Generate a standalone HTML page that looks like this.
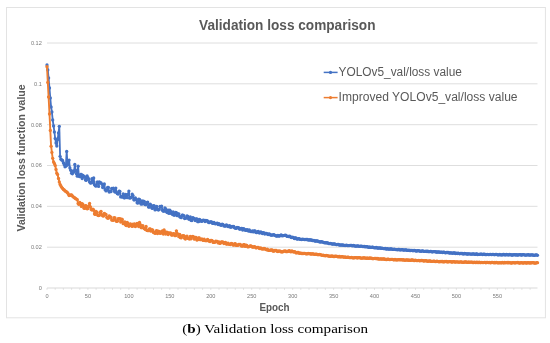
<!DOCTYPE html>
<html><head><meta charset="utf-8"><title>Validation loss comparison</title>
<style>html,body{margin:0;padding:0;background:#fff;width:550px;height:343px;overflow:hidden}svg{display:block}</style>
</head><body>
<svg width="550" height="343" viewBox="0 0 550 343">
<rect x="0" y="0" width="550" height="343" fill="#fff"/>
<rect x="6.5" y="7.5" width="538.9" height="310.3" fill="#fff" stroke="#e3e3e3" stroke-width="1"/>
<g stroke="#dedede" stroke-width="1"><line x1="47" y1="247.2" x2="537.5" y2="247.2"/><line x1="47" y1="206.3" x2="537.5" y2="206.3"/><line x1="47" y1="165.5" x2="537.5" y2="165.5"/><line x1="47" y1="124.7" x2="537.5" y2="124.7"/><line x1="47" y1="83.8" x2="537.5" y2="83.8"/><line x1="47" y1="43.0" x2="537.5" y2="43.0"/></g>
<line x1="47" y1="288" x2="537.5" y2="288" stroke="#d9d9d9" stroke-width="1"/>
<g stroke="#d9d9d9" stroke-width="0.8"><line x1="47.0" y1="288" x2="47.0" y2="289.8"/><line x1="55.2" y1="288" x2="55.2" y2="289.8"/><line x1="63.4" y1="288" x2="63.4" y2="289.8"/><line x1="71.6" y1="288" x2="71.6" y2="289.8"/><line x1="79.8" y1="288" x2="79.8" y2="289.8"/><line x1="87.9" y1="288" x2="87.9" y2="289.8"/><line x1="96.1" y1="288" x2="96.1" y2="289.8"/><line x1="104.3" y1="288" x2="104.3" y2="289.8"/><line x1="112.5" y1="288" x2="112.5" y2="289.8"/><line x1="120.7" y1="288" x2="120.7" y2="289.8"/><line x1="128.9" y1="288" x2="128.9" y2="289.8"/><line x1="137.1" y1="288" x2="137.1" y2="289.8"/><line x1="145.3" y1="288" x2="145.3" y2="289.8"/><line x1="153.5" y1="288" x2="153.5" y2="289.8"/><line x1="161.6" y1="288" x2="161.6" y2="289.8"/><line x1="169.8" y1="288" x2="169.8" y2="289.8"/><line x1="178.0" y1="288" x2="178.0" y2="289.8"/><line x1="186.2" y1="288" x2="186.2" y2="289.8"/><line x1="194.4" y1="288" x2="194.4" y2="289.8"/><line x1="202.6" y1="288" x2="202.6" y2="289.8"/><line x1="210.8" y1="288" x2="210.8" y2="289.8"/><line x1="219.0" y1="288" x2="219.0" y2="289.8"/><line x1="227.2" y1="288" x2="227.2" y2="289.8"/><line x1="235.3" y1="288" x2="235.3" y2="289.8"/><line x1="243.5" y1="288" x2="243.5" y2="289.8"/><line x1="251.7" y1="288" x2="251.7" y2="289.8"/><line x1="259.9" y1="288" x2="259.9" y2="289.8"/><line x1="268.1" y1="288" x2="268.1" y2="289.8"/><line x1="276.3" y1="288" x2="276.3" y2="289.8"/><line x1="284.5" y1="288" x2="284.5" y2="289.8"/><line x1="292.7" y1="288" x2="292.7" y2="289.8"/><line x1="300.8" y1="288" x2="300.8" y2="289.8"/><line x1="309.0" y1="288" x2="309.0" y2="289.8"/><line x1="317.2" y1="288" x2="317.2" y2="289.8"/><line x1="325.4" y1="288" x2="325.4" y2="289.8"/><line x1="333.6" y1="288" x2="333.6" y2="289.8"/><line x1="341.8" y1="288" x2="341.8" y2="289.8"/><line x1="350.0" y1="288" x2="350.0" y2="289.8"/><line x1="358.2" y1="288" x2="358.2" y2="289.8"/><line x1="366.4" y1="288" x2="366.4" y2="289.8"/><line x1="374.5" y1="288" x2="374.5" y2="289.8"/><line x1="382.7" y1="288" x2="382.7" y2="289.8"/><line x1="390.9" y1="288" x2="390.9" y2="289.8"/><line x1="399.1" y1="288" x2="399.1" y2="289.8"/><line x1="407.3" y1="288" x2="407.3" y2="289.8"/><line x1="415.5" y1="288" x2="415.5" y2="289.8"/><line x1="423.7" y1="288" x2="423.7" y2="289.8"/><line x1="431.9" y1="288" x2="431.9" y2="289.8"/><line x1="440.1" y1="288" x2="440.1" y2="289.8"/><line x1="448.2" y1="288" x2="448.2" y2="289.8"/><line x1="456.4" y1="288" x2="456.4" y2="289.8"/><line x1="464.6" y1="288" x2="464.6" y2="289.8"/><line x1="472.8" y1="288" x2="472.8" y2="289.8"/><line x1="481.0" y1="288" x2="481.0" y2="289.8"/><line x1="489.2" y1="288" x2="489.2" y2="289.8"/><line x1="497.4" y1="288" x2="497.4" y2="289.8"/><line x1="505.6" y1="288" x2="505.6" y2="289.8"/><line x1="513.8" y1="288" x2="513.8" y2="289.8"/><line x1="521.9" y1="288" x2="521.9" y2="289.8"/><line x1="530.1" y1="288" x2="530.1" y2="289.8"/></g>
<g font-family="'Liberation Sans', sans-serif" font-size="5.6" fill="#7a7a7a"><text x="41.8" y="289.9" text-anchor="end">0</text><text x="41.8" y="249.1" text-anchor="end">0.02</text><text x="41.8" y="208.2" text-anchor="end">0.04</text><text x="41.8" y="167.4" text-anchor="end">0.06</text><text x="41.8" y="126.6" text-anchor="end">0.08</text><text x="41.8" y="85.7" text-anchor="end">0.1</text><text x="41.8" y="44.9" text-anchor="end">0.12</text><text x="47.0" y="297.6" text-anchor="middle">0</text><text x="87.9" y="297.6" text-anchor="middle">50</text><text x="128.9" y="297.6" text-anchor="middle">100</text><text x="169.8" y="297.6" text-anchor="middle">150</text><text x="210.8" y="297.6" text-anchor="middle">200</text><text x="251.7" y="297.6" text-anchor="middle">250</text><text x="292.7" y="297.6" text-anchor="middle">300</text><text x="333.6" y="297.6" text-anchor="middle">350</text><text x="374.5" y="297.6" text-anchor="middle">400</text><text x="415.5" y="297.6" text-anchor="middle">450</text><text x="456.4" y="297.6" text-anchor="middle">500</text><text x="497.4" y="297.6" text-anchor="middle">550</text></g>
<polyline points="47.0,64.9 47.8,70.0 48.6,78.0 49.5,88.0 50.3,98.0 51.1,107.0 51.9,112.0 52.7,120.0 53.6,126.0 54.4,132.0 55.2,138.5 56.0,143.0 56.8,146.0 57.6,139.5 58.5,133.0 59.3,126.3 60.1,156.3 60.9,159.2 61.7,160.0 62.6,160.4 63.4,162.7 64.2,164.5 65.0,166.8 65.8,166.2 66.7,151.4 67.5,165.1 68.3,163.0 69.1,160.1 69.9,168.0 70.7,170.3 71.6,173.2 72.4,173.8 73.2,171.0 74.0,172.0 74.8,164.5 75.7,170.3 76.5,174.0 77.3,176.2 78.1,166.2 78.9,176.0 79.8,176.7 80.6,174.5 81.4,174.4 82.2,178.5 83.0,175.4 83.8,176.3 84.7,176.9 85.5,180.0 86.3,180.3 87.1,176.0 87.9,177.6 88.8,179.2 89.6,181.9 90.4,183.0 91.2,182.9 92.0,178.7 92.9,182.5 93.7,178.0 94.5,184.7 95.3,185.8 96.1,186.0 97.0,182.1 97.8,182.1 98.6,186.4 99.4,182.0 100.2,182.7 101.0,183.0 101.9,184.1 102.7,187.5 103.5,185.4 104.3,184.0 105.1,189.7 106.0,190.9 106.8,190.3 107.6,187.5 108.4,187.4 109.2,192.0 110.1,191.3 110.9,191.7 111.7,188.5 112.5,188.8 113.3,188.1 114.1,191.1 115.0,192.1 115.8,188.1 116.6,192.4 117.4,193.7 118.2,194.1 119.1,191.1 119.9,191.5 120.7,196.9 121.5,196.7 122.3,197.1 123.2,193.8 124.0,197.8 124.8,197.8 125.6,194.5 126.4,194.8 127.2,197.7 128.1,194.1 128.9,191.1 129.7,198.2 130.5,197.6 131.3,197.7 132.2,194.1 133.0,195.6 133.8,199.8 134.6,199.9 135.4,197.9 136.3,199.3 137.1,202.8 137.9,203.0 138.7,199.1 139.5,199.4 140.4,202.7 141.2,204.2 142.0,200.8 142.8,203.9 143.6,201.1 144.4,201.6 145.3,204.7 146.1,204.7 146.9,202.7 147.7,202.1 148.5,207.0 149.4,207.0 150.2,204.2 151.0,205.1 151.8,208.1 152.6,208.4 153.5,205.6 154.3,205.8 155.1,209.9 155.9,209.3 156.7,206.4 157.5,209.1 158.4,210.1 159.2,209.4 160.0,206.4 160.8,207.1 161.6,206.1 162.5,210.2 163.3,211.2 164.1,211.2 164.9,208.0 165.7,208.8 166.6,212.0 167.4,212.5 168.2,210.1 169.0,213.4 169.8,210.1 170.6,211.3 171.5,213.6 172.3,214.3 173.1,211.8 173.9,215.2 174.7,215.0 175.6,212.3 176.4,212.6 177.2,215.7 178.0,214.0 178.8,213.8 179.7,216.8 180.5,217.0 181.3,217.7 182.1,215.2 182.9,215.2 183.8,215.6 184.6,218.6 185.4,217.8 186.2,218.2 187.0,215.9 187.8,216.4 188.7,219.1 189.5,219.2 190.3,216.8 191.1,220.4 191.9,220.6 192.8,217.6 193.6,218.1 194.4,218.8 195.2,220.6 196.0,219.0 196.9,218.8 197.7,221.7 198.5,221.7 199.3,219.3 200.1,219.9 200.9,221.0 201.8,221.4 202.6,220.3 203.4,220.2 204.2,220.5 205.0,221.6 205.9,220.5 206.7,220.7 207.5,220.9 208.3,222.2 209.1,222.7 210.0,221.8 210.8,221.8 211.6,222.0 212.4,223.3 213.2,223.4 214.0,222.5 214.9,223.7 215.7,223.8 216.5,223.3 217.3,223.1 218.1,224.5 219.0,223.7 219.8,224.7 220.6,225.0 221.4,225.3 222.2,224.1 223.1,224.6 223.9,225.9 224.7,225.9 225.5,226.2 226.3,224.9 227.2,225.3 228.0,226.6 228.8,226.5 229.6,225.6 230.4,227.2 231.2,227.2 232.1,226.4 232.9,226.7 233.7,226.4 234.5,227.8 235.3,228.1 236.2,228.4 237.0,227.3 237.8,227.7 238.6,227.7 239.4,229.0 240.3,229.2 241.1,228.5 241.9,228.4 242.7,230.0 243.5,228.6 244.3,229.1 245.2,230.2 246.0,230.4 246.8,229.7 247.6,230.0 248.4,231.0 249.3,229.9 250.1,231.2 250.9,231.6 251.7,231.5 252.5,230.9 253.4,231.9 254.2,230.9 255.0,230.9 255.8,232.2 256.6,232.7 257.4,231.7 258.3,231.4 259.1,232.8 259.9,232.9 260.7,231.9 261.5,232.3 262.4,233.6 263.2,232.6 264.0,232.8 264.8,234.1 265.6,233.3 266.5,233.4 267.3,234.1 268.1,234.5 268.9,234.0 269.7,234.2 270.6,235.0 271.4,235.1 272.2,235.2 273.0,234.8 273.8,234.7 274.6,235.1 275.5,235.7 276.3,236.0 277.1,236.0 277.9,235.5 278.7,236.1 279.6,236.0 280.4,235.3 281.2,235.0 282.0,235.8 282.8,235.7 283.7,235.6 284.5,235.3 285.3,235.2 286.1,235.3 286.9,236.3 287.7,236.4 288.6,236.5 289.4,236.1 290.2,236.4 291.0,237.4 291.8,237.6 292.7,237.1 293.5,237.6 294.3,238.5 295.1,238.0 295.9,238.0 296.8,238.9 297.6,239.2 298.4,238.6 299.2,238.6 300.0,239.3 300.8,239.4 301.7,239.5 302.5,239.2 303.3,239.3 304.1,239.3 304.9,239.7 305.8,239.3 306.6,239.5 307.4,239.5 308.2,239.9 309.0,240.1 309.9,239.7 310.7,240.2 311.5,239.9 312.3,240.5 313.1,240.6 313.9,240.4 314.8,241.0 315.6,241.0 316.4,240.9 317.2,241.0 318.0,241.2 318.9,241.7 319.7,241.8 320.5,242.0 321.3,241.7 322.1,241.9 323.0,242.1 323.8,242.6 324.6,242.7 325.4,242.9 326.2,242.7 327.1,242.9 327.9,242.9 328.7,243.6 329.5,243.6 330.3,243.5 331.1,243.6 332.0,244.0 332.8,244.1 333.6,243.9 334.4,244.0 335.2,244.1 336.1,244.6 336.9,244.7 337.7,244.4 338.5,244.5 339.3,245.0 340.2,245.1 341.0,244.9 341.8,245.2 342.6,245.0 343.4,245.1 344.2,245.4 345.1,245.5 345.9,245.3 346.7,245.2 347.5,245.6 348.3,245.6 349.2,245.6 350.0,245.4 350.8,245.3 351.6,245.4 352.4,245.9 353.3,245.5 354.1,245.6 354.9,246.1 355.7,246.1 356.5,246.2 357.3,245.9 358.2,245.9 359.0,246.3 359.8,246.3 360.6,246.1 361.4,246.1 362.3,246.3 363.1,246.7 363.9,246.4 364.7,246.5 365.5,246.9 366.4,246.6 367.2,246.6 368.0,247.2 368.8,247.3 369.6,247.0 370.5,247.4 371.3,247.4 372.1,247.2 372.9,247.2 373.7,247.6 374.5,247.8 375.4,247.8 376.2,247.5 377.0,247.9 377.8,248.0 378.6,248.2 379.5,247.9 380.3,247.9 381.1,248.4 381.9,248.1 382.7,248.3 383.6,248.6 384.4,248.7 385.2,248.5 386.0,248.9 386.8,249.0 387.6,248.7 388.5,249.1 389.3,249.2 390.1,248.9 390.9,249.0 391.7,248.9 392.6,249.4 393.4,249.4 394.2,249.1 395.0,249.3 395.8,249.6 396.7,249.6 397.5,249.8 398.3,249.5 399.1,249.4 399.9,249.9 400.7,249.9 401.6,249.6 402.4,249.7 403.2,250.0 404.0,250.1 404.8,249.9 405.7,249.9 406.5,250.0 407.3,250.4 408.1,250.4 408.9,250.1 409.8,250.5 410.6,250.5 411.4,250.3 412.2,250.3 413.0,250.8 413.9,250.4 414.7,250.5 415.5,250.8 416.3,251.0 417.1,250.9 417.9,250.7 418.8,250.7 419.6,251.1 420.4,251.2 421.2,251.3 422.0,250.8 422.9,250.9 423.7,251.3 424.5,251.4 425.3,251.4 426.1,251.1 427.0,251.5 427.8,251.2 428.6,251.7 429.4,251.7 430.2,251.3 431.0,251.4 431.9,251.9 432.7,251.8 433.5,251.6 434.3,251.6 435.1,251.7 436.0,252.0 436.8,252.0 437.6,252.2 438.4,251.8 439.2,252.0 440.1,252.3 440.9,252.1 441.7,252.1 442.5,252.5 443.3,252.2 444.1,252.2 445.0,252.7 445.8,252.8 446.6,252.4 447.4,252.5 448.2,252.5 449.1,252.9 449.9,253.0 450.7,252.8 451.5,252.8 452.3,253.3 453.2,252.9 454.0,253.0 454.8,253.0 455.6,253.5 456.4,253.2 457.3,253.5 458.1,253.2 458.9,253.3 459.7,253.8 460.5,253.4 461.3,253.5 462.2,253.5 463.0,253.9 463.8,253.9 464.6,253.5 465.4,253.6 466.3,253.9 467.1,254.0 467.9,254.0 468.7,253.8 469.5,253.8 470.4,254.1 471.2,254.1 472.0,254.2 472.8,253.8 473.6,253.9 474.4,254.2 475.3,254.4 476.1,254.0 476.9,254.0 477.7,254.5 478.5,254.4 479.4,254.4 480.2,254.1 481.0,254.1 481.8,254.1 482.6,254.6 483.5,254.1 484.3,254.2 485.1,254.6 485.9,254.5 486.7,254.6 487.5,254.3 488.4,254.6 489.2,254.6 490.0,254.3 490.8,254.3 491.6,254.7 492.5,254.4 493.3,254.3 494.1,254.7 494.9,254.7 495.7,254.4 496.6,254.3 497.4,254.8 498.2,254.8 499.0,254.8 499.8,254.5 500.7,254.8 501.5,254.9 502.3,254.9 503.1,254.5 503.9,254.4 504.7,254.9 505.6,254.9 506.4,254.5 507.2,254.6 508.0,254.9 508.8,254.9 509.7,254.5 510.5,254.6 511.3,255.0 512.1,255.0 512.9,255.0 513.8,254.6 514.6,254.7 515.4,255.0 516.2,254.6 517.0,255.0 517.8,255.0 518.7,254.8 519.5,254.7 520.3,254.7 521.1,255.0 521.9,255.0 522.8,254.7 523.6,254.7 524.4,254.8 525.2,255.1 526.0,255.2 526.9,254.8 527.7,254.8 528.5,254.7 529.3,255.2 530.1,255.1 530.9,254.8 531.8,254.9 532.6,254.9 533.4,255.2 534.2,255.3 535.0,255.2 535.9,254.8 536.7,254.9 537.5,255.3" fill="none" stroke="#4472C4" stroke-width="1.8" stroke-linejoin="round" stroke-linecap="round"/>
<g fill="#4472C4"><circle cx="47.0" cy="64.9" r="1.65"/><circle cx="47.8" cy="70.0" r="1.65"/><circle cx="48.6" cy="78.0" r="1.65"/><circle cx="49.5" cy="88.0" r="1.65"/><circle cx="50.3" cy="98.0" r="1.65"/><circle cx="51.1" cy="107.0" r="1.65"/><circle cx="51.9" cy="112.0" r="1.65"/><circle cx="52.7" cy="120.0" r="1.65"/><circle cx="53.6" cy="126.0" r="1.65"/><circle cx="54.4" cy="132.0" r="1.65"/><circle cx="55.2" cy="138.5" r="1.65"/><circle cx="56.0" cy="143.0" r="1.65"/><circle cx="56.8" cy="146.0" r="1.65"/><circle cx="57.6" cy="139.5" r="1.65"/><circle cx="58.5" cy="133.0" r="1.65"/><circle cx="59.3" cy="126.3" r="1.65"/><circle cx="60.1" cy="156.3" r="1.65"/><circle cx="60.9" cy="159.2" r="1.65"/><circle cx="61.7" cy="160.0" r="1.65"/><circle cx="62.6" cy="160.4" r="1.65"/><circle cx="63.4" cy="162.7" r="1.65"/><circle cx="64.2" cy="164.5" r="1.65"/><circle cx="65.0" cy="166.8" r="1.65"/><circle cx="65.8" cy="166.2" r="1.65"/><circle cx="66.7" cy="151.4" r="1.65"/><circle cx="67.5" cy="165.1" r="1.65"/><circle cx="68.3" cy="163.0" r="1.65"/><circle cx="69.1" cy="160.1" r="1.65"/><circle cx="69.9" cy="168.0" r="1.65"/><circle cx="70.7" cy="170.3" r="1.65"/><circle cx="71.6" cy="173.2" r="1.65"/><circle cx="72.4" cy="173.8" r="1.65"/><circle cx="73.2" cy="171.0" r="1.65"/><circle cx="74.0" cy="172.0" r="1.65"/><circle cx="74.8" cy="164.5" r="1.65"/><circle cx="75.7" cy="170.3" r="1.65"/><circle cx="76.5" cy="174.0" r="1.65"/><circle cx="77.3" cy="176.2" r="1.65"/><circle cx="78.1" cy="166.2" r="1.65"/><circle cx="78.9" cy="176.0" r="1.65"/><circle cx="79.8" cy="176.7" r="1.65"/><circle cx="80.6" cy="174.5" r="1.65"/><circle cx="81.4" cy="174.4" r="1.65"/><circle cx="82.2" cy="178.5" r="1.65"/><circle cx="83.0" cy="175.4" r="1.65"/><circle cx="83.8" cy="176.3" r="1.65"/><circle cx="84.7" cy="176.9" r="1.65"/><circle cx="85.5" cy="180.0" r="1.65"/><circle cx="86.3" cy="180.3" r="1.65"/><circle cx="87.1" cy="176.0" r="1.65"/><circle cx="87.9" cy="177.6" r="1.65"/><circle cx="88.8" cy="179.2" r="1.65"/><circle cx="89.6" cy="181.9" r="1.65"/><circle cx="90.4" cy="183.0" r="1.65"/><circle cx="91.2" cy="182.9" r="1.65"/><circle cx="92.0" cy="178.7" r="1.65"/><circle cx="92.9" cy="182.5" r="1.65"/><circle cx="93.7" cy="178.0" r="1.65"/><circle cx="94.5" cy="184.7" r="1.65"/><circle cx="95.3" cy="185.8" r="1.65"/><circle cx="96.1" cy="186.0" r="1.65"/><circle cx="97.0" cy="182.1" r="1.65"/><circle cx="97.8" cy="182.1" r="1.65"/><circle cx="98.6" cy="186.4" r="1.65"/><circle cx="99.4" cy="182.0" r="1.65"/><circle cx="100.2" cy="182.7" r="1.65"/><circle cx="101.0" cy="183.0" r="1.65"/><circle cx="101.9" cy="184.1" r="1.65"/><circle cx="102.7" cy="187.5" r="1.65"/><circle cx="103.5" cy="185.4" r="1.65"/><circle cx="104.3" cy="184.0" r="1.65"/><circle cx="105.1" cy="189.7" r="1.65"/><circle cx="106.0" cy="190.9" r="1.65"/><circle cx="106.8" cy="190.3" r="1.65"/><circle cx="107.6" cy="187.5" r="1.65"/><circle cx="108.4" cy="187.4" r="1.65"/><circle cx="109.2" cy="192.0" r="1.65"/><circle cx="110.1" cy="191.3" r="1.65"/><circle cx="110.9" cy="191.7" r="1.65"/><circle cx="111.7" cy="188.5" r="1.65"/><circle cx="112.5" cy="188.8" r="1.65"/><circle cx="113.3" cy="188.1" r="1.65"/><circle cx="114.1" cy="191.1" r="1.65"/><circle cx="115.0" cy="192.1" r="1.65"/><circle cx="115.8" cy="188.1" r="1.65"/><circle cx="116.6" cy="192.4" r="1.65"/><circle cx="117.4" cy="193.7" r="1.65"/><circle cx="118.2" cy="194.1" r="1.65"/><circle cx="119.1" cy="191.1" r="1.65"/><circle cx="119.9" cy="191.5" r="1.65"/><circle cx="120.7" cy="196.9" r="1.65"/><circle cx="121.5" cy="196.7" r="1.65"/><circle cx="122.3" cy="197.1" r="1.65"/><circle cx="123.2" cy="193.8" r="1.65"/><circle cx="124.0" cy="197.8" r="1.65"/><circle cx="124.8" cy="197.8" r="1.65"/><circle cx="125.6" cy="194.5" r="1.65"/><circle cx="126.4" cy="194.8" r="1.65"/><circle cx="127.2" cy="197.7" r="1.65"/><circle cx="128.1" cy="194.1" r="1.65"/><circle cx="128.9" cy="191.1" r="1.65"/><circle cx="129.7" cy="198.2" r="1.65"/><circle cx="130.5" cy="197.6" r="1.65"/><circle cx="131.3" cy="197.7" r="1.65"/><circle cx="132.2" cy="194.1" r="1.65"/><circle cx="133.0" cy="195.6" r="1.65"/><circle cx="133.8" cy="199.8" r="1.65"/><circle cx="134.6" cy="199.9" r="1.65"/><circle cx="135.4" cy="197.9" r="1.65"/><circle cx="136.3" cy="199.3" r="1.65"/><circle cx="137.1" cy="202.8" r="1.65"/><circle cx="137.9" cy="203.0" r="1.65"/><circle cx="138.7" cy="199.1" r="1.65"/><circle cx="139.5" cy="199.4" r="1.65"/><circle cx="140.4" cy="202.7" r="1.65"/><circle cx="141.2" cy="204.2" r="1.65"/><circle cx="142.0" cy="200.8" r="1.65"/><circle cx="142.8" cy="203.9" r="1.65"/><circle cx="143.6" cy="201.1" r="1.65"/><circle cx="144.4" cy="201.6" r="1.65"/><circle cx="145.3" cy="204.7" r="1.65"/><circle cx="146.1" cy="204.7" r="1.65"/><circle cx="146.9" cy="202.7" r="1.65"/><circle cx="147.7" cy="202.1" r="1.65"/><circle cx="148.5" cy="207.0" r="1.65"/><circle cx="149.4" cy="207.0" r="1.65"/><circle cx="150.2" cy="204.2" r="1.65"/><circle cx="151.0" cy="205.1" r="1.65"/><circle cx="151.8" cy="208.1" r="1.65"/><circle cx="152.6" cy="208.4" r="1.65"/><circle cx="153.5" cy="205.6" r="1.65"/><circle cx="154.3" cy="205.8" r="1.65"/><circle cx="155.1" cy="209.9" r="1.65"/><circle cx="155.9" cy="209.3" r="1.65"/><circle cx="156.7" cy="206.4" r="1.65"/><circle cx="157.5" cy="209.1" r="1.65"/><circle cx="158.4" cy="210.1" r="1.65"/><circle cx="159.2" cy="209.4" r="1.65"/><circle cx="160.0" cy="206.4" r="1.65"/><circle cx="160.8" cy="207.1" r="1.65"/><circle cx="161.6" cy="206.1" r="1.65"/><circle cx="162.5" cy="210.2" r="1.65"/><circle cx="163.3" cy="211.2" r="1.65"/><circle cx="164.1" cy="211.2" r="1.65"/><circle cx="164.9" cy="208.0" r="1.65"/><circle cx="165.7" cy="208.8" r="1.65"/><circle cx="166.6" cy="212.0" r="1.65"/><circle cx="167.4" cy="212.5" r="1.65"/><circle cx="168.2" cy="210.1" r="1.65"/><circle cx="169.0" cy="213.4" r="1.65"/><circle cx="169.8" cy="210.1" r="1.65"/><circle cx="170.6" cy="211.3" r="1.65"/><circle cx="171.5" cy="213.6" r="1.65"/><circle cx="172.3" cy="214.3" r="1.65"/><circle cx="173.1" cy="211.8" r="1.65"/><circle cx="173.9" cy="215.2" r="1.65"/><circle cx="174.7" cy="215.0" r="1.65"/><circle cx="175.6" cy="212.3" r="1.65"/><circle cx="176.4" cy="212.6" r="1.65"/><circle cx="177.2" cy="215.7" r="1.65"/><circle cx="178.0" cy="214.0" r="1.65"/><circle cx="178.8" cy="213.8" r="1.65"/><circle cx="179.7" cy="216.8" r="1.65"/><circle cx="180.5" cy="217.0" r="1.65"/><circle cx="181.3" cy="217.7" r="1.65"/><circle cx="182.1" cy="215.2" r="1.65"/><circle cx="182.9" cy="215.2" r="1.65"/><circle cx="183.8" cy="215.6" r="1.65"/><circle cx="184.6" cy="218.6" r="1.65"/><circle cx="185.4" cy="217.8" r="1.65"/><circle cx="186.2" cy="218.2" r="1.65"/><circle cx="187.0" cy="215.9" r="1.65"/><circle cx="187.8" cy="216.4" r="1.65"/><circle cx="188.7" cy="219.1" r="1.65"/><circle cx="189.5" cy="219.2" r="1.65"/><circle cx="190.3" cy="216.8" r="1.65"/><circle cx="191.1" cy="220.4" r="1.65"/><circle cx="191.9" cy="220.6" r="1.65"/><circle cx="192.8" cy="217.6" r="1.65"/><circle cx="193.6" cy="218.1" r="1.65"/><circle cx="194.4" cy="218.8" r="1.65"/><circle cx="195.2" cy="220.6" r="1.65"/><circle cx="196.0" cy="219.0" r="1.65"/><circle cx="196.9" cy="218.8" r="1.65"/><circle cx="197.7" cy="221.7" r="1.65"/><circle cx="198.5" cy="221.7" r="1.65"/><circle cx="199.3" cy="219.3" r="1.65"/><circle cx="200.1" cy="219.9" r="1.65"/><circle cx="200.9" cy="221.0" r="1.65"/><circle cx="201.8" cy="221.4" r="1.65"/><circle cx="202.6" cy="220.3" r="1.65"/><circle cx="203.4" cy="220.2" r="1.65"/><circle cx="204.2" cy="220.5" r="1.65"/><circle cx="205.0" cy="221.6" r="1.65"/><circle cx="205.9" cy="220.5" r="1.65"/><circle cx="206.7" cy="220.7" r="1.65"/><circle cx="207.5" cy="220.9" r="1.65"/><circle cx="208.3" cy="222.2" r="1.65"/><circle cx="209.1" cy="222.7" r="1.65"/><circle cx="210.0" cy="221.8" r="1.65"/><circle cx="210.8" cy="221.8" r="1.65"/><circle cx="211.6" cy="222.0" r="1.65"/><circle cx="212.4" cy="223.3" r="1.65"/><circle cx="213.2" cy="223.4" r="1.65"/><circle cx="214.0" cy="222.5" r="1.65"/><circle cx="214.9" cy="223.7" r="1.65"/><circle cx="215.7" cy="223.8" r="1.65"/><circle cx="216.5" cy="223.3" r="1.65"/><circle cx="217.3" cy="223.1" r="1.65"/><circle cx="218.1" cy="224.5" r="1.65"/><circle cx="219.0" cy="223.7" r="1.65"/><circle cx="219.8" cy="224.7" r="1.65"/><circle cx="220.6" cy="225.0" r="1.65"/><circle cx="221.4" cy="225.3" r="1.65"/><circle cx="222.2" cy="224.1" r="1.65"/><circle cx="223.1" cy="224.6" r="1.65"/><circle cx="223.9" cy="225.9" r="1.65"/><circle cx="224.7" cy="225.9" r="1.65"/><circle cx="225.5" cy="226.2" r="1.65"/><circle cx="226.3" cy="224.9" r="1.65"/><circle cx="227.2" cy="225.3" r="1.65"/><circle cx="228.0" cy="226.6" r="1.65"/><circle cx="228.8" cy="226.5" r="1.65"/><circle cx="229.6" cy="225.6" r="1.65"/><circle cx="230.4" cy="227.2" r="1.65"/><circle cx="231.2" cy="227.2" r="1.65"/><circle cx="232.1" cy="226.4" r="1.65"/><circle cx="232.9" cy="226.7" r="1.65"/><circle cx="233.7" cy="226.4" r="1.65"/><circle cx="234.5" cy="227.8" r="1.65"/><circle cx="235.3" cy="228.1" r="1.65"/><circle cx="236.2" cy="228.4" r="1.65"/><circle cx="237.0" cy="227.3" r="1.65"/><circle cx="237.8" cy="227.7" r="1.65"/><circle cx="238.6" cy="227.7" r="1.65"/><circle cx="239.4" cy="229.0" r="1.65"/><circle cx="240.3" cy="229.2" r="1.65"/><circle cx="241.1" cy="228.5" r="1.65"/><circle cx="241.9" cy="228.4" r="1.65"/><circle cx="242.7" cy="230.0" r="1.65"/><circle cx="243.5" cy="228.6" r="1.65"/><circle cx="244.3" cy="229.1" r="1.65"/><circle cx="245.2" cy="230.2" r="1.65"/><circle cx="246.0" cy="230.4" r="1.65"/><circle cx="246.8" cy="229.7" r="1.65"/><circle cx="247.6" cy="230.0" r="1.65"/><circle cx="248.4" cy="231.0" r="1.65"/><circle cx="249.3" cy="229.9" r="1.65"/><circle cx="250.1" cy="231.2" r="1.65"/><circle cx="250.9" cy="231.6" r="1.65"/><circle cx="251.7" cy="231.5" r="1.65"/><circle cx="252.5" cy="230.9" r="1.65"/><circle cx="253.4" cy="231.9" r="1.65"/><circle cx="254.2" cy="230.9" r="1.65"/><circle cx="255.0" cy="230.9" r="1.65"/><circle cx="255.8" cy="232.2" r="1.65"/><circle cx="256.6" cy="232.7" r="1.65"/><circle cx="257.4" cy="231.7" r="1.65"/><circle cx="258.3" cy="231.4" r="1.65"/><circle cx="259.1" cy="232.8" r="1.65"/><circle cx="259.9" cy="232.9" r="1.65"/><circle cx="260.7" cy="231.9" r="1.65"/><circle cx="261.5" cy="232.3" r="1.65"/><circle cx="262.4" cy="233.6" r="1.65"/><circle cx="263.2" cy="232.6" r="1.65"/><circle cx="264.0" cy="232.8" r="1.65"/><circle cx="264.8" cy="234.1" r="1.65"/><circle cx="265.6" cy="233.3" r="1.65"/><circle cx="266.5" cy="233.4" r="1.65"/><circle cx="267.3" cy="234.1" r="1.65"/><circle cx="268.1" cy="234.5" r="1.65"/><circle cx="268.9" cy="234.0" r="1.65"/><circle cx="269.7" cy="234.2" r="1.65"/><circle cx="270.6" cy="235.0" r="1.65"/><circle cx="271.4" cy="235.1" r="1.65"/><circle cx="272.2" cy="235.2" r="1.65"/><circle cx="273.0" cy="234.8" r="1.65"/><circle cx="273.8" cy="234.7" r="1.65"/><circle cx="274.6" cy="235.1" r="1.65"/><circle cx="275.5" cy="235.7" r="1.65"/><circle cx="276.3" cy="236.0" r="1.65"/><circle cx="277.1" cy="236.0" r="1.65"/><circle cx="277.9" cy="235.5" r="1.65"/><circle cx="278.7" cy="236.1" r="1.65"/><circle cx="279.6" cy="236.0" r="1.65"/><circle cx="280.4" cy="235.3" r="1.65"/><circle cx="281.2" cy="235.0" r="1.65"/><circle cx="282.0" cy="235.8" r="1.65"/><circle cx="282.8" cy="235.7" r="1.65"/><circle cx="283.7" cy="235.6" r="1.65"/><circle cx="284.5" cy="235.3" r="1.65"/><circle cx="285.3" cy="235.2" r="1.65"/><circle cx="286.1" cy="235.3" r="1.65"/><circle cx="286.9" cy="236.3" r="1.65"/><circle cx="287.7" cy="236.4" r="1.65"/><circle cx="288.6" cy="236.5" r="1.65"/><circle cx="289.4" cy="236.1" r="1.65"/><circle cx="290.2" cy="236.4" r="1.65"/><circle cx="291.0" cy="237.4" r="1.65"/><circle cx="291.8" cy="237.6" r="1.65"/><circle cx="292.7" cy="237.1" r="1.65"/><circle cx="293.5" cy="237.6" r="1.65"/><circle cx="294.3" cy="238.5" r="1.65"/><circle cx="295.1" cy="238.0" r="1.65"/><circle cx="295.9" cy="238.0" r="1.65"/><circle cx="296.8" cy="238.9" r="1.65"/><circle cx="297.6" cy="239.2" r="1.65"/><circle cx="298.4" cy="238.6" r="1.65"/><circle cx="299.2" cy="238.6" r="1.65"/><circle cx="300.0" cy="239.3" r="1.65"/><circle cx="300.8" cy="239.4" r="1.65"/><circle cx="301.7" cy="239.5" r="1.65"/><circle cx="302.5" cy="239.2" r="1.65"/><circle cx="303.3" cy="239.3" r="1.65"/><circle cx="304.1" cy="239.3" r="1.65"/><circle cx="304.9" cy="239.7" r="1.65"/><circle cx="305.8" cy="239.3" r="1.65"/><circle cx="306.6" cy="239.5" r="1.65"/><circle cx="307.4" cy="239.5" r="1.65"/><circle cx="308.2" cy="239.9" r="1.65"/><circle cx="309.0" cy="240.1" r="1.65"/><circle cx="309.9" cy="239.7" r="1.65"/><circle cx="310.7" cy="240.2" r="1.65"/><circle cx="311.5" cy="239.9" r="1.65"/><circle cx="312.3" cy="240.5" r="1.65"/><circle cx="313.1" cy="240.6" r="1.65"/><circle cx="313.9" cy="240.4" r="1.65"/><circle cx="314.8" cy="241.0" r="1.65"/><circle cx="315.6" cy="241.0" r="1.65"/><circle cx="316.4" cy="240.9" r="1.65"/><circle cx="317.2" cy="241.0" r="1.65"/><circle cx="318.0" cy="241.2" r="1.65"/><circle cx="318.9" cy="241.7" r="1.65"/><circle cx="319.7" cy="241.8" r="1.65"/><circle cx="320.5" cy="242.0" r="1.65"/><circle cx="321.3" cy="241.7" r="1.65"/><circle cx="322.1" cy="241.9" r="1.65"/><circle cx="323.0" cy="242.1" r="1.65"/><circle cx="323.8" cy="242.6" r="1.65"/><circle cx="324.6" cy="242.7" r="1.65"/><circle cx="325.4" cy="242.9" r="1.65"/><circle cx="326.2" cy="242.7" r="1.65"/><circle cx="327.1" cy="242.9" r="1.65"/><circle cx="327.9" cy="242.9" r="1.65"/><circle cx="328.7" cy="243.6" r="1.65"/><circle cx="329.5" cy="243.6" r="1.65"/><circle cx="330.3" cy="243.5" r="1.65"/><circle cx="331.1" cy="243.6" r="1.65"/><circle cx="332.0" cy="244.0" r="1.65"/><circle cx="332.8" cy="244.1" r="1.65"/><circle cx="333.6" cy="243.9" r="1.65"/><circle cx="334.4" cy="244.0" r="1.65"/><circle cx="335.2" cy="244.1" r="1.65"/><circle cx="336.1" cy="244.6" r="1.65"/><circle cx="336.9" cy="244.7" r="1.65"/><circle cx="337.7" cy="244.4" r="1.65"/><circle cx="338.5" cy="244.5" r="1.65"/><circle cx="339.3" cy="245.0" r="1.65"/><circle cx="340.2" cy="245.1" r="1.65"/><circle cx="341.0" cy="244.9" r="1.65"/><circle cx="341.8" cy="245.2" r="1.65"/><circle cx="342.6" cy="245.0" r="1.65"/><circle cx="343.4" cy="245.1" r="1.65"/><circle cx="344.2" cy="245.4" r="1.65"/><circle cx="345.1" cy="245.5" r="1.65"/><circle cx="345.9" cy="245.3" r="1.65"/><circle cx="346.7" cy="245.2" r="1.65"/><circle cx="347.5" cy="245.6" r="1.65"/><circle cx="348.3" cy="245.6" r="1.65"/><circle cx="349.2" cy="245.6" r="1.65"/><circle cx="350.0" cy="245.4" r="1.65"/><circle cx="350.8" cy="245.3" r="1.65"/><circle cx="351.6" cy="245.4" r="1.65"/><circle cx="352.4" cy="245.9" r="1.65"/><circle cx="353.3" cy="245.5" r="1.65"/><circle cx="354.1" cy="245.6" r="1.65"/><circle cx="354.9" cy="246.1" r="1.65"/><circle cx="355.7" cy="246.1" r="1.65"/><circle cx="356.5" cy="246.2" r="1.65"/><circle cx="357.3" cy="245.9" r="1.65"/><circle cx="358.2" cy="245.9" r="1.65"/><circle cx="359.0" cy="246.3" r="1.65"/><circle cx="359.8" cy="246.3" r="1.65"/><circle cx="360.6" cy="246.1" r="1.65"/><circle cx="361.4" cy="246.1" r="1.65"/><circle cx="362.3" cy="246.3" r="1.65"/><circle cx="363.1" cy="246.7" r="1.65"/><circle cx="363.9" cy="246.4" r="1.65"/><circle cx="364.7" cy="246.5" r="1.65"/><circle cx="365.5" cy="246.9" r="1.65"/><circle cx="366.4" cy="246.6" r="1.65"/><circle cx="367.2" cy="246.6" r="1.65"/><circle cx="368.0" cy="247.2" r="1.65"/><circle cx="368.8" cy="247.3" r="1.65"/><circle cx="369.6" cy="247.0" r="1.65"/><circle cx="370.5" cy="247.4" r="1.65"/><circle cx="371.3" cy="247.4" r="1.65"/><circle cx="372.1" cy="247.2" r="1.65"/><circle cx="372.9" cy="247.2" r="1.65"/><circle cx="373.7" cy="247.6" r="1.65"/><circle cx="374.5" cy="247.8" r="1.65"/><circle cx="375.4" cy="247.8" r="1.65"/><circle cx="376.2" cy="247.5" r="1.65"/><circle cx="377.0" cy="247.9" r="1.65"/><circle cx="377.8" cy="248.0" r="1.65"/><circle cx="378.6" cy="248.2" r="1.65"/><circle cx="379.5" cy="247.9" r="1.65"/><circle cx="380.3" cy="247.9" r="1.65"/><circle cx="381.1" cy="248.4" r="1.65"/><circle cx="381.9" cy="248.1" r="1.65"/><circle cx="382.7" cy="248.3" r="1.65"/><circle cx="383.6" cy="248.6" r="1.65"/><circle cx="384.4" cy="248.7" r="1.65"/><circle cx="385.2" cy="248.5" r="1.65"/><circle cx="386.0" cy="248.9" r="1.65"/><circle cx="386.8" cy="249.0" r="1.65"/><circle cx="387.6" cy="248.7" r="1.65"/><circle cx="388.5" cy="249.1" r="1.65"/><circle cx="389.3" cy="249.2" r="1.65"/><circle cx="390.1" cy="248.9" r="1.65"/><circle cx="390.9" cy="249.0" r="1.65"/><circle cx="391.7" cy="248.9" r="1.65"/><circle cx="392.6" cy="249.4" r="1.65"/><circle cx="393.4" cy="249.4" r="1.65"/><circle cx="394.2" cy="249.1" r="1.65"/><circle cx="395.0" cy="249.3" r="1.65"/><circle cx="395.8" cy="249.6" r="1.65"/><circle cx="396.7" cy="249.6" r="1.65"/><circle cx="397.5" cy="249.8" r="1.65"/><circle cx="398.3" cy="249.5" r="1.65"/><circle cx="399.1" cy="249.4" r="1.65"/><circle cx="399.9" cy="249.9" r="1.65"/><circle cx="400.7" cy="249.9" r="1.65"/><circle cx="401.6" cy="249.6" r="1.65"/><circle cx="402.4" cy="249.7" r="1.65"/><circle cx="403.2" cy="250.0" r="1.65"/><circle cx="404.0" cy="250.1" r="1.65"/><circle cx="404.8" cy="249.9" r="1.65"/><circle cx="405.7" cy="249.9" r="1.65"/><circle cx="406.5" cy="250.0" r="1.65"/><circle cx="407.3" cy="250.4" r="1.65"/><circle cx="408.1" cy="250.4" r="1.65"/><circle cx="408.9" cy="250.1" r="1.65"/><circle cx="409.8" cy="250.5" r="1.65"/><circle cx="410.6" cy="250.5" r="1.65"/><circle cx="411.4" cy="250.3" r="1.65"/><circle cx="412.2" cy="250.3" r="1.65"/><circle cx="413.0" cy="250.8" r="1.65"/><circle cx="413.9" cy="250.4" r="1.65"/><circle cx="414.7" cy="250.5" r="1.65"/><circle cx="415.5" cy="250.8" r="1.65"/><circle cx="416.3" cy="251.0" r="1.65"/><circle cx="417.1" cy="250.9" r="1.65"/><circle cx="417.9" cy="250.7" r="1.65"/><circle cx="418.8" cy="250.7" r="1.65"/><circle cx="419.6" cy="251.1" r="1.65"/><circle cx="420.4" cy="251.2" r="1.65"/><circle cx="421.2" cy="251.3" r="1.65"/><circle cx="422.0" cy="250.8" r="1.65"/><circle cx="422.9" cy="250.9" r="1.65"/><circle cx="423.7" cy="251.3" r="1.65"/><circle cx="424.5" cy="251.4" r="1.65"/><circle cx="425.3" cy="251.4" r="1.65"/><circle cx="426.1" cy="251.1" r="1.65"/><circle cx="427.0" cy="251.5" r="1.65"/><circle cx="427.8" cy="251.2" r="1.65"/><circle cx="428.6" cy="251.7" r="1.65"/><circle cx="429.4" cy="251.7" r="1.65"/><circle cx="430.2" cy="251.3" r="1.65"/><circle cx="431.0" cy="251.4" r="1.65"/><circle cx="431.9" cy="251.9" r="1.65"/><circle cx="432.7" cy="251.8" r="1.65"/><circle cx="433.5" cy="251.6" r="1.65"/><circle cx="434.3" cy="251.6" r="1.65"/><circle cx="435.1" cy="251.7" r="1.65"/><circle cx="436.0" cy="252.0" r="1.65"/><circle cx="436.8" cy="252.0" r="1.65"/><circle cx="437.6" cy="252.2" r="1.65"/><circle cx="438.4" cy="251.8" r="1.65"/><circle cx="439.2" cy="252.0" r="1.65"/><circle cx="440.1" cy="252.3" r="1.65"/><circle cx="440.9" cy="252.1" r="1.65"/><circle cx="441.7" cy="252.1" r="1.65"/><circle cx="442.5" cy="252.5" r="1.65"/><circle cx="443.3" cy="252.2" r="1.65"/><circle cx="444.1" cy="252.2" r="1.65"/><circle cx="445.0" cy="252.7" r="1.65"/><circle cx="445.8" cy="252.8" r="1.65"/><circle cx="446.6" cy="252.4" r="1.65"/><circle cx="447.4" cy="252.5" r="1.65"/><circle cx="448.2" cy="252.5" r="1.65"/><circle cx="449.1" cy="252.9" r="1.65"/><circle cx="449.9" cy="253.0" r="1.65"/><circle cx="450.7" cy="252.8" r="1.65"/><circle cx="451.5" cy="252.8" r="1.65"/><circle cx="452.3" cy="253.3" r="1.65"/><circle cx="453.2" cy="252.9" r="1.65"/><circle cx="454.0" cy="253.0" r="1.65"/><circle cx="454.8" cy="253.0" r="1.65"/><circle cx="455.6" cy="253.5" r="1.65"/><circle cx="456.4" cy="253.2" r="1.65"/><circle cx="457.3" cy="253.5" r="1.65"/><circle cx="458.1" cy="253.2" r="1.65"/><circle cx="458.9" cy="253.3" r="1.65"/><circle cx="459.7" cy="253.8" r="1.65"/><circle cx="460.5" cy="253.4" r="1.65"/><circle cx="461.3" cy="253.5" r="1.65"/><circle cx="462.2" cy="253.5" r="1.65"/><circle cx="463.0" cy="253.9" r="1.65"/><circle cx="463.8" cy="253.9" r="1.65"/><circle cx="464.6" cy="253.5" r="1.65"/><circle cx="465.4" cy="253.6" r="1.65"/><circle cx="466.3" cy="253.9" r="1.65"/><circle cx="467.1" cy="254.0" r="1.65"/><circle cx="467.9" cy="254.0" r="1.65"/><circle cx="468.7" cy="253.8" r="1.65"/><circle cx="469.5" cy="253.8" r="1.65"/><circle cx="470.4" cy="254.1" r="1.65"/><circle cx="471.2" cy="254.1" r="1.65"/><circle cx="472.0" cy="254.2" r="1.65"/><circle cx="472.8" cy="253.8" r="1.65"/><circle cx="473.6" cy="253.9" r="1.65"/><circle cx="474.4" cy="254.2" r="1.65"/><circle cx="475.3" cy="254.4" r="1.65"/><circle cx="476.1" cy="254.0" r="1.65"/><circle cx="476.9" cy="254.0" r="1.65"/><circle cx="477.7" cy="254.5" r="1.65"/><circle cx="478.5" cy="254.4" r="1.65"/><circle cx="479.4" cy="254.4" r="1.65"/><circle cx="480.2" cy="254.1" r="1.65"/><circle cx="481.0" cy="254.1" r="1.65"/><circle cx="481.8" cy="254.1" r="1.65"/><circle cx="482.6" cy="254.6" r="1.65"/><circle cx="483.5" cy="254.1" r="1.65"/><circle cx="484.3" cy="254.2" r="1.65"/><circle cx="485.1" cy="254.6" r="1.65"/><circle cx="485.9" cy="254.5" r="1.65"/><circle cx="486.7" cy="254.6" r="1.65"/><circle cx="487.5" cy="254.3" r="1.65"/><circle cx="488.4" cy="254.6" r="1.65"/><circle cx="489.2" cy="254.6" r="1.65"/><circle cx="490.0" cy="254.3" r="1.65"/><circle cx="490.8" cy="254.3" r="1.65"/><circle cx="491.6" cy="254.7" r="1.65"/><circle cx="492.5" cy="254.4" r="1.65"/><circle cx="493.3" cy="254.3" r="1.65"/><circle cx="494.1" cy="254.7" r="1.65"/><circle cx="494.9" cy="254.7" r="1.65"/><circle cx="495.7" cy="254.4" r="1.65"/><circle cx="496.6" cy="254.3" r="1.65"/><circle cx="497.4" cy="254.8" r="1.65"/><circle cx="498.2" cy="254.8" r="1.65"/><circle cx="499.0" cy="254.8" r="1.65"/><circle cx="499.8" cy="254.5" r="1.65"/><circle cx="500.7" cy="254.8" r="1.65"/><circle cx="501.5" cy="254.9" r="1.65"/><circle cx="502.3" cy="254.9" r="1.65"/><circle cx="503.1" cy="254.5" r="1.65"/><circle cx="503.9" cy="254.4" r="1.65"/><circle cx="504.7" cy="254.9" r="1.65"/><circle cx="505.6" cy="254.9" r="1.65"/><circle cx="506.4" cy="254.5" r="1.65"/><circle cx="507.2" cy="254.6" r="1.65"/><circle cx="508.0" cy="254.9" r="1.65"/><circle cx="508.8" cy="254.9" r="1.65"/><circle cx="509.7" cy="254.5" r="1.65"/><circle cx="510.5" cy="254.6" r="1.65"/><circle cx="511.3" cy="255.0" r="1.65"/><circle cx="512.1" cy="255.0" r="1.65"/><circle cx="512.9" cy="255.0" r="1.65"/><circle cx="513.8" cy="254.6" r="1.65"/><circle cx="514.6" cy="254.7" r="1.65"/><circle cx="515.4" cy="255.0" r="1.65"/><circle cx="516.2" cy="254.6" r="1.65"/><circle cx="517.0" cy="255.0" r="1.65"/><circle cx="517.8" cy="255.0" r="1.65"/><circle cx="518.7" cy="254.8" r="1.65"/><circle cx="519.5" cy="254.7" r="1.65"/><circle cx="520.3" cy="254.7" r="1.65"/><circle cx="521.1" cy="255.0" r="1.65"/><circle cx="521.9" cy="255.0" r="1.65"/><circle cx="522.8" cy="254.7" r="1.65"/><circle cx="523.6" cy="254.7" r="1.65"/><circle cx="524.4" cy="254.8" r="1.65"/><circle cx="525.2" cy="255.1" r="1.65"/><circle cx="526.0" cy="255.2" r="1.65"/><circle cx="526.9" cy="254.8" r="1.65"/><circle cx="527.7" cy="254.8" r="1.65"/><circle cx="528.5" cy="254.7" r="1.65"/><circle cx="529.3" cy="255.2" r="1.65"/><circle cx="530.1" cy="255.1" r="1.65"/><circle cx="530.9" cy="254.8" r="1.65"/><circle cx="531.8" cy="254.9" r="1.65"/><circle cx="532.6" cy="254.9" r="1.65"/><circle cx="533.4" cy="255.2" r="1.65"/><circle cx="534.2" cy="255.3" r="1.65"/><circle cx="535.0" cy="255.2" r="1.65"/><circle cx="535.9" cy="254.8" r="1.65"/><circle cx="536.7" cy="254.9" r="1.65"/><circle cx="537.5" cy="255.3" r="1.65"/></g>
<polyline points="47.0,66.7 47.8,82.5 48.6,97.0 49.5,114.0 50.3,130.4 51.1,146.2 51.9,152.5 52.7,158.3 53.6,162.0 54.4,163.5 55.2,165.5 56.0,169.5 56.8,173.2 57.6,174.6 58.5,178.5 59.3,182.0 60.1,184.5 60.9,186.0 61.7,187.3 62.6,188.4 63.4,189.4 64.2,190.0 65.0,190.8 65.8,191.4 66.7,192.0 67.5,192.7 68.3,194.0 69.1,195.6 69.9,195.3 70.7,195.0 71.6,195.0 72.4,196.0 73.2,196.8 74.0,197.3 74.8,198.0 75.7,198.7 76.5,199.1 77.3,199.7 78.1,203.5 78.9,204.4 79.8,202.5 80.6,203.3 81.4,206.4 82.2,203.7 83.0,204.7 83.8,208.1 84.7,208.4 85.5,205.6 86.3,205.8 87.1,208.8 87.9,208.5 88.8,206.1 89.6,203.4 90.4,206.8 91.2,209.4 92.0,210.0 92.9,209.2 93.7,209.9 94.5,214.0 95.3,214.4 96.1,211.5 97.0,212.4 97.8,215.3 98.6,215.5 99.4,215.3 100.2,212.5 101.0,211.3 101.9,214.9 102.7,215.8 103.5,216.1 104.3,213.3 105.1,214.1 106.0,214.4 106.8,217.3 107.6,218.2 108.4,218.2 109.2,215.8 110.1,216.8 110.9,217.1 111.7,220.1 112.5,220.1 113.3,220.3 114.1,217.6 115.0,218.0 115.8,220.6 116.6,221.4 117.4,221.2 118.2,218.6 119.1,218.8 119.9,218.7 120.7,222.0 121.5,219.1 122.3,219.4 123.2,223.7 124.0,223.2 124.8,221.9 125.6,225.0 126.4,225.6 127.2,222.4 128.1,223.3 128.9,226.3 129.7,225.4 130.5,223.8 131.3,225.7 132.2,226.4 133.0,224.1 133.8,225.8 134.6,223.8 135.4,226.6 136.3,225.7 137.1,223.4 137.9,224.0 138.7,226.5 139.5,222.5 140.4,224.7 141.2,227.7 142.0,227.7 142.8,225.6 143.6,227.8 144.4,228.7 145.3,229.4 146.1,226.4 146.9,230.4 147.7,230.6 148.5,230.7 149.4,229.0 150.2,228.9 151.0,231.2 151.8,229.8 152.6,229.8 153.5,232.6 154.3,232.4 155.1,233.4 155.9,231.1 156.7,230.6 157.5,233.6 158.4,231.1 159.2,231.6 160.0,233.3 160.8,233.2 161.6,231.3 162.5,230.8 163.3,234.0 164.1,230.0 164.9,231.9 165.7,234.0 166.6,232.2 167.4,232.4 168.2,234.5 169.0,232.9 169.8,233.4 170.6,232.9 171.5,235.0 172.3,235.0 173.1,233.6 173.9,233.7 174.7,235.5 175.6,235.7 176.4,230.8 177.2,233.6 178.0,234.2 178.8,236.7 179.7,234.4 180.5,237.7 181.3,237.8 182.1,235.8 182.9,235.9 183.8,235.7 184.6,238.3 185.4,239.0 186.2,236.6 187.0,236.1 187.8,238.3 188.7,238.5 189.5,239.1 190.3,236.3 191.1,238.8 191.9,236.8 192.8,236.5 193.6,236.9 194.4,239.2 195.2,237.5 196.0,237.3 196.9,240.1 197.7,239.7 198.5,238.0 199.3,238.0 200.1,239.7 200.9,239.6 201.8,238.9 202.6,240.1 203.4,240.4 204.2,239.2 205.0,240.6 205.9,240.7 206.7,240.7 207.5,239.4 208.3,240.1 209.1,241.2 210.0,241.5 210.8,240.3 211.6,240.5 212.4,240.8 213.2,242.4 214.0,242.2 214.9,242.3 215.7,241.2 216.5,241.4 217.3,241.4 218.1,242.9 219.0,242.0 219.8,243.4 220.6,243.0 221.4,241.9 222.2,242.0 223.1,242.1 223.9,243.5 224.7,242.6 225.5,242.5 226.3,244.0 227.2,244.1 228.0,243.1 228.8,244.1 229.6,244.4 230.4,244.6 231.2,243.5 232.1,243.6 232.9,244.8 233.7,245.2 234.5,243.8 235.3,243.7 236.2,245.4 237.0,245.1 237.8,245.4 238.6,244.3 239.4,244.4 240.3,244.3 241.1,245.9 241.9,245.8 242.7,246.2 243.5,244.7 244.3,244.7 245.2,246.4 246.0,245.1 246.8,245.4 247.6,246.8 248.4,246.8 249.3,246.6 250.1,246.0 250.9,246.0 251.7,246.3 252.5,247.2 253.4,247.1 254.2,246.7 255.0,246.8 255.8,247.8 256.6,247.8 257.4,247.4 258.3,247.3 259.1,248.3 259.9,248.5 260.7,247.9 261.5,248.8 262.4,248.9 263.2,249.0 264.0,248.4 264.8,248.6 265.6,249.4 266.5,249.8 267.3,249.2 268.1,250.2 268.9,250.4 269.7,250.4 270.6,250.0 271.4,250.1 272.2,250.0 273.0,251.0 273.8,251.2 274.6,250.5 275.5,250.5 276.3,250.5 277.1,251.3 277.9,251.5 278.7,250.9 279.6,251.1 280.4,251.1 281.2,251.9 282.0,251.8 282.8,251.8 283.7,251.1 284.5,251.1 285.3,250.9 286.1,251.7 286.9,251.5 287.7,251.5 288.6,250.9 289.4,250.7 290.2,251.5 291.0,251.8 291.8,251.0 292.7,251.3 293.5,252.1 294.3,251.7 295.1,251.8 295.9,252.8 296.8,252.9 297.6,252.5 298.4,252.4 299.2,253.3 300.0,253.2 300.8,253.1 301.7,253.5 302.5,253.5 303.3,253.5 304.1,253.3 304.9,253.4 305.8,253.8 306.6,253.8 307.4,253.8 308.2,253.5 309.0,253.6 309.9,253.7 310.7,254.0 311.5,254.0 312.3,253.8 313.1,253.8 313.9,254.2 314.8,254.4 315.6,254.1 316.4,254.1 317.2,254.5 318.0,254.7 318.9,254.7 319.7,254.5 320.5,254.6 321.3,255.1 322.1,255.3 323.0,255.1 323.8,255.5 324.6,255.6 325.4,255.8 326.2,255.5 327.1,255.6 327.9,255.8 328.7,256.1 329.5,256.2 330.3,256.3 331.1,256.1 332.0,256.0 332.8,256.4 333.6,256.5 334.4,256.6 335.2,256.2 336.1,256.3 336.9,256.3 337.7,256.7 338.5,256.9 339.3,256.4 340.2,256.9 341.0,256.9 341.8,256.7 342.6,256.7 343.4,257.1 344.2,257.2 345.1,256.9 345.9,257.3 346.7,257.4 347.5,257.1 348.3,257.2 349.2,257.6 350.0,257.6 350.8,257.7 351.6,257.4 352.4,257.8 353.3,257.8 354.1,257.9 354.9,257.6 355.7,257.6 356.5,257.6 357.3,258.0 358.2,257.6 359.0,257.7 359.8,257.7 360.6,258.1 361.4,258.1 362.3,258.2 363.1,257.8 363.9,257.9 364.7,257.8 365.5,258.2 366.4,258.3 367.2,258.0 368.0,258.3 368.8,258.3 369.6,258.0 370.5,258.2 371.3,258.1 372.1,258.5 372.9,258.7 373.7,258.6 374.5,258.4 375.4,258.5 376.2,258.4 377.0,258.8 377.8,258.5 378.6,259.0 379.5,259.1 380.3,258.8 381.1,258.9 381.9,259.2 382.7,258.9 383.6,259.0 384.4,259.0 385.2,259.4 386.0,259.5 386.8,259.5 387.6,259.2 388.5,259.2 389.3,259.6 390.1,259.6 390.9,259.4 391.7,259.4 392.6,259.4 393.4,259.8 394.2,259.8 395.0,259.5 395.8,259.8 396.7,259.9 397.5,259.9 398.3,259.6 399.1,259.6 399.9,259.9 400.7,259.7 401.6,259.7 402.4,260.1 403.2,259.7 404.0,260.1 404.8,260.2 405.7,260.2 406.5,259.8 407.3,259.9 408.1,260.3 408.9,260.0 409.8,260.4 410.6,260.3 411.4,260.0 412.2,260.0 413.0,260.2 413.9,260.5 414.7,260.5 415.5,260.2 416.3,260.6 417.1,260.6 417.9,260.6 418.8,260.3 419.6,260.8 420.4,260.7 421.2,260.5 422.0,260.5 422.9,260.6 423.7,261.0 424.5,260.9 425.3,260.7 426.1,260.7 427.0,261.2 427.8,261.1 428.6,261.2 429.4,260.9 430.2,260.9 431.0,261.4 431.9,261.3 432.7,261.3 433.5,261.1 434.3,261.1 435.1,261.6 436.0,261.6 436.8,261.2 437.6,261.3 438.4,261.7 439.2,261.8 440.1,261.5 440.9,261.7 441.7,261.5 442.5,261.5 443.3,261.9 444.1,261.8 445.0,261.5 445.8,261.6 446.6,261.5 447.4,261.9 448.2,261.9 449.1,261.6 449.9,261.6 450.7,261.7 451.5,262.0 452.3,262.0 453.2,261.7 454.0,261.7 454.8,262.0 455.6,262.1 456.4,261.8 457.3,261.8 458.1,262.1 458.9,262.1 459.7,262.1 460.5,261.9 461.3,261.8 462.2,262.3 463.0,262.2 463.8,262.3 464.6,261.9 465.4,262.0 466.3,262.0 467.1,262.3 467.9,262.4 468.7,262.0 469.5,262.3 470.4,262.1 471.2,262.1 472.0,262.1 472.8,262.5 473.6,262.5 474.4,262.1 475.3,262.5 476.1,262.5 476.9,262.2 477.7,262.5 478.5,262.5 479.4,262.2 480.2,262.7 481.0,262.6 481.8,262.3 482.6,262.6 483.5,262.6 484.3,262.3 485.1,262.4 485.9,262.8 486.7,262.3 487.5,262.3 488.4,262.7 489.2,262.4 490.0,262.7 490.8,262.8 491.6,262.4 492.5,262.4 493.3,262.7 494.1,262.8 494.9,262.5 495.7,262.8 496.6,262.4 497.4,262.8 498.2,262.8 499.0,262.8 499.8,262.6 500.7,262.9 501.5,262.8 502.3,262.4 503.1,262.8 503.9,262.9 504.7,262.5 505.6,262.8 506.4,262.6 507.2,262.5 508.0,262.9 508.8,262.5 509.7,262.6 510.5,262.9 511.3,263.0 512.1,262.9 512.9,262.6 513.8,262.6 514.6,262.9 515.4,262.9 516.2,262.6 517.0,262.6 517.8,262.5 518.7,262.9 519.5,263.0 520.3,262.9 521.1,262.7 521.9,262.7 522.8,263.1 523.6,263.0 524.4,262.6 525.2,262.7 526.0,263.0 526.9,263.0 527.7,262.7 528.5,262.7 529.3,263.1 530.1,262.7 530.9,263.1 531.8,262.7 532.6,262.7 533.4,262.7 534.2,263.0 535.0,263.1 535.9,263.1 536.7,262.7 537.5,262.7" fill="none" stroke="#ED7D31" stroke-width="1.9" stroke-linejoin="round" stroke-linecap="round"/>
<g fill="#ED7D31"><circle cx="47.0" cy="66.7" r="1.65"/><circle cx="47.8" cy="82.5" r="1.65"/><circle cx="48.6" cy="97.0" r="1.65"/><circle cx="49.5" cy="114.0" r="1.65"/><circle cx="50.3" cy="130.4" r="1.65"/><circle cx="51.1" cy="146.2" r="1.65"/><circle cx="51.9" cy="152.5" r="1.65"/><circle cx="52.7" cy="158.3" r="1.65"/><circle cx="53.6" cy="162.0" r="1.65"/><circle cx="54.4" cy="163.5" r="1.65"/><circle cx="55.2" cy="165.5" r="1.65"/><circle cx="56.0" cy="169.5" r="1.65"/><circle cx="56.8" cy="173.2" r="1.65"/><circle cx="57.6" cy="174.6" r="1.65"/><circle cx="58.5" cy="178.5" r="1.65"/><circle cx="59.3" cy="182.0" r="1.65"/><circle cx="60.1" cy="184.5" r="1.65"/><circle cx="60.9" cy="186.0" r="1.65"/><circle cx="61.7" cy="187.3" r="1.65"/><circle cx="62.6" cy="188.4" r="1.65"/><circle cx="63.4" cy="189.4" r="1.65"/><circle cx="64.2" cy="190.0" r="1.65"/><circle cx="65.0" cy="190.8" r="1.65"/><circle cx="65.8" cy="191.4" r="1.65"/><circle cx="66.7" cy="192.0" r="1.65"/><circle cx="67.5" cy="192.7" r="1.65"/><circle cx="68.3" cy="194.0" r="1.65"/><circle cx="69.1" cy="195.6" r="1.65"/><circle cx="69.9" cy="195.3" r="1.65"/><circle cx="70.7" cy="195.0" r="1.65"/><circle cx="71.6" cy="195.0" r="1.65"/><circle cx="72.4" cy="196.0" r="1.65"/><circle cx="73.2" cy="196.8" r="1.65"/><circle cx="74.0" cy="197.3" r="1.65"/><circle cx="74.8" cy="198.0" r="1.65"/><circle cx="75.7" cy="198.7" r="1.65"/><circle cx="76.5" cy="199.1" r="1.65"/><circle cx="77.3" cy="199.7" r="1.65"/><circle cx="78.1" cy="203.5" r="1.65"/><circle cx="78.9" cy="204.4" r="1.65"/><circle cx="79.8" cy="202.5" r="1.65"/><circle cx="80.6" cy="203.3" r="1.65"/><circle cx="81.4" cy="206.4" r="1.65"/><circle cx="82.2" cy="203.7" r="1.65"/><circle cx="83.0" cy="204.7" r="1.65"/><circle cx="83.8" cy="208.1" r="1.65"/><circle cx="84.7" cy="208.4" r="1.65"/><circle cx="85.5" cy="205.6" r="1.65"/><circle cx="86.3" cy="205.8" r="1.65"/><circle cx="87.1" cy="208.8" r="1.65"/><circle cx="87.9" cy="208.5" r="1.65"/><circle cx="88.8" cy="206.1" r="1.65"/><circle cx="89.6" cy="203.4" r="1.65"/><circle cx="90.4" cy="206.8" r="1.65"/><circle cx="91.2" cy="209.4" r="1.65"/><circle cx="92.0" cy="210.0" r="1.65"/><circle cx="92.9" cy="209.2" r="1.65"/><circle cx="93.7" cy="209.9" r="1.65"/><circle cx="94.5" cy="214.0" r="1.65"/><circle cx="95.3" cy="214.4" r="1.65"/><circle cx="96.1" cy="211.5" r="1.65"/><circle cx="97.0" cy="212.4" r="1.65"/><circle cx="97.8" cy="215.3" r="1.65"/><circle cx="98.6" cy="215.5" r="1.65"/><circle cx="99.4" cy="215.3" r="1.65"/><circle cx="100.2" cy="212.5" r="1.65"/><circle cx="101.0" cy="211.3" r="1.65"/><circle cx="101.9" cy="214.9" r="1.65"/><circle cx="102.7" cy="215.8" r="1.65"/><circle cx="103.5" cy="216.1" r="1.65"/><circle cx="104.3" cy="213.3" r="1.65"/><circle cx="105.1" cy="214.1" r="1.65"/><circle cx="106.0" cy="214.4" r="1.65"/><circle cx="106.8" cy="217.3" r="1.65"/><circle cx="107.6" cy="218.2" r="1.65"/><circle cx="108.4" cy="218.2" r="1.65"/><circle cx="109.2" cy="215.8" r="1.65"/><circle cx="110.1" cy="216.8" r="1.65"/><circle cx="110.9" cy="217.1" r="1.65"/><circle cx="111.7" cy="220.1" r="1.65"/><circle cx="112.5" cy="220.1" r="1.65"/><circle cx="113.3" cy="220.3" r="1.65"/><circle cx="114.1" cy="217.6" r="1.65"/><circle cx="115.0" cy="218.0" r="1.65"/><circle cx="115.8" cy="220.6" r="1.65"/><circle cx="116.6" cy="221.4" r="1.65"/><circle cx="117.4" cy="221.2" r="1.65"/><circle cx="118.2" cy="218.6" r="1.65"/><circle cx="119.1" cy="218.8" r="1.65"/><circle cx="119.9" cy="218.7" r="1.65"/><circle cx="120.7" cy="222.0" r="1.65"/><circle cx="121.5" cy="219.1" r="1.65"/><circle cx="122.3" cy="219.4" r="1.65"/><circle cx="123.2" cy="223.7" r="1.65"/><circle cx="124.0" cy="223.2" r="1.65"/><circle cx="124.8" cy="221.9" r="1.65"/><circle cx="125.6" cy="225.0" r="1.65"/><circle cx="126.4" cy="225.6" r="1.65"/><circle cx="127.2" cy="222.4" r="1.65"/><circle cx="128.1" cy="223.3" r="1.65"/><circle cx="128.9" cy="226.3" r="1.65"/><circle cx="129.7" cy="225.4" r="1.65"/><circle cx="130.5" cy="223.8" r="1.65"/><circle cx="131.3" cy="225.7" r="1.65"/><circle cx="132.2" cy="226.4" r="1.65"/><circle cx="133.0" cy="224.1" r="1.65"/><circle cx="133.8" cy="225.8" r="1.65"/><circle cx="134.6" cy="223.8" r="1.65"/><circle cx="135.4" cy="226.6" r="1.65"/><circle cx="136.3" cy="225.7" r="1.65"/><circle cx="137.1" cy="223.4" r="1.65"/><circle cx="137.9" cy="224.0" r="1.65"/><circle cx="138.7" cy="226.5" r="1.65"/><circle cx="139.5" cy="222.5" r="1.65"/><circle cx="140.4" cy="224.7" r="1.65"/><circle cx="141.2" cy="227.7" r="1.65"/><circle cx="142.0" cy="227.7" r="1.65"/><circle cx="142.8" cy="225.6" r="1.65"/><circle cx="143.6" cy="227.8" r="1.65"/><circle cx="144.4" cy="228.7" r="1.65"/><circle cx="145.3" cy="229.4" r="1.65"/><circle cx="146.1" cy="226.4" r="1.65"/><circle cx="146.9" cy="230.4" r="1.65"/><circle cx="147.7" cy="230.6" r="1.65"/><circle cx="148.5" cy="230.7" r="1.65"/><circle cx="149.4" cy="229.0" r="1.65"/><circle cx="150.2" cy="228.9" r="1.65"/><circle cx="151.0" cy="231.2" r="1.65"/><circle cx="151.8" cy="229.8" r="1.65"/><circle cx="152.6" cy="229.8" r="1.65"/><circle cx="153.5" cy="232.6" r="1.65"/><circle cx="154.3" cy="232.4" r="1.65"/><circle cx="155.1" cy="233.4" r="1.65"/><circle cx="155.9" cy="231.1" r="1.65"/><circle cx="156.7" cy="230.6" r="1.65"/><circle cx="157.5" cy="233.6" r="1.65"/><circle cx="158.4" cy="231.1" r="1.65"/><circle cx="159.2" cy="231.6" r="1.65"/><circle cx="160.0" cy="233.3" r="1.65"/><circle cx="160.8" cy="233.2" r="1.65"/><circle cx="161.6" cy="231.3" r="1.65"/><circle cx="162.5" cy="230.8" r="1.65"/><circle cx="163.3" cy="234.0" r="1.65"/><circle cx="164.1" cy="230.0" r="1.65"/><circle cx="164.9" cy="231.9" r="1.65"/><circle cx="165.7" cy="234.0" r="1.65"/><circle cx="166.6" cy="232.2" r="1.65"/><circle cx="167.4" cy="232.4" r="1.65"/><circle cx="168.2" cy="234.5" r="1.65"/><circle cx="169.0" cy="232.9" r="1.65"/><circle cx="169.8" cy="233.4" r="1.65"/><circle cx="170.6" cy="232.9" r="1.65"/><circle cx="171.5" cy="235.0" r="1.65"/><circle cx="172.3" cy="235.0" r="1.65"/><circle cx="173.1" cy="233.6" r="1.65"/><circle cx="173.9" cy="233.7" r="1.65"/><circle cx="174.7" cy="235.5" r="1.65"/><circle cx="175.6" cy="235.7" r="1.65"/><circle cx="176.4" cy="230.8" r="1.65"/><circle cx="177.2" cy="233.6" r="1.65"/><circle cx="178.0" cy="234.2" r="1.65"/><circle cx="178.8" cy="236.7" r="1.65"/><circle cx="179.7" cy="234.4" r="1.65"/><circle cx="180.5" cy="237.7" r="1.65"/><circle cx="181.3" cy="237.8" r="1.65"/><circle cx="182.1" cy="235.8" r="1.65"/><circle cx="182.9" cy="235.9" r="1.65"/><circle cx="183.8" cy="235.7" r="1.65"/><circle cx="184.6" cy="238.3" r="1.65"/><circle cx="185.4" cy="239.0" r="1.65"/><circle cx="186.2" cy="236.6" r="1.65"/><circle cx="187.0" cy="236.1" r="1.65"/><circle cx="187.8" cy="238.3" r="1.65"/><circle cx="188.7" cy="238.5" r="1.65"/><circle cx="189.5" cy="239.1" r="1.65"/><circle cx="190.3" cy="236.3" r="1.65"/><circle cx="191.1" cy="238.8" r="1.65"/><circle cx="191.9" cy="236.8" r="1.65"/><circle cx="192.8" cy="236.5" r="1.65"/><circle cx="193.6" cy="236.9" r="1.65"/><circle cx="194.4" cy="239.2" r="1.65"/><circle cx="195.2" cy="237.5" r="1.65"/><circle cx="196.0" cy="237.3" r="1.65"/><circle cx="196.9" cy="240.1" r="1.65"/><circle cx="197.7" cy="239.7" r="1.65"/><circle cx="198.5" cy="238.0" r="1.65"/><circle cx="199.3" cy="238.0" r="1.65"/><circle cx="200.1" cy="239.7" r="1.65"/><circle cx="200.9" cy="239.6" r="1.65"/><circle cx="201.8" cy="238.9" r="1.65"/><circle cx="202.6" cy="240.1" r="1.65"/><circle cx="203.4" cy="240.4" r="1.65"/><circle cx="204.2" cy="239.2" r="1.65"/><circle cx="205.0" cy="240.6" r="1.65"/><circle cx="205.9" cy="240.7" r="1.65"/><circle cx="206.7" cy="240.7" r="1.65"/><circle cx="207.5" cy="239.4" r="1.65"/><circle cx="208.3" cy="240.1" r="1.65"/><circle cx="209.1" cy="241.2" r="1.65"/><circle cx="210.0" cy="241.5" r="1.65"/><circle cx="210.8" cy="240.3" r="1.65"/><circle cx="211.6" cy="240.5" r="1.65"/><circle cx="212.4" cy="240.8" r="1.65"/><circle cx="213.2" cy="242.4" r="1.65"/><circle cx="214.0" cy="242.2" r="1.65"/><circle cx="214.9" cy="242.3" r="1.65"/><circle cx="215.7" cy="241.2" r="1.65"/><circle cx="216.5" cy="241.4" r="1.65"/><circle cx="217.3" cy="241.4" r="1.65"/><circle cx="218.1" cy="242.9" r="1.65"/><circle cx="219.0" cy="242.0" r="1.65"/><circle cx="219.8" cy="243.4" r="1.65"/><circle cx="220.6" cy="243.0" r="1.65"/><circle cx="221.4" cy="241.9" r="1.65"/><circle cx="222.2" cy="242.0" r="1.65"/><circle cx="223.1" cy="242.1" r="1.65"/><circle cx="223.9" cy="243.5" r="1.65"/><circle cx="224.7" cy="242.6" r="1.65"/><circle cx="225.5" cy="242.5" r="1.65"/><circle cx="226.3" cy="244.0" r="1.65"/><circle cx="227.2" cy="244.1" r="1.65"/><circle cx="228.0" cy="243.1" r="1.65"/><circle cx="228.8" cy="244.1" r="1.65"/><circle cx="229.6" cy="244.4" r="1.65"/><circle cx="230.4" cy="244.6" r="1.65"/><circle cx="231.2" cy="243.5" r="1.65"/><circle cx="232.1" cy="243.6" r="1.65"/><circle cx="232.9" cy="244.8" r="1.65"/><circle cx="233.7" cy="245.2" r="1.65"/><circle cx="234.5" cy="243.8" r="1.65"/><circle cx="235.3" cy="243.7" r="1.65"/><circle cx="236.2" cy="245.4" r="1.65"/><circle cx="237.0" cy="245.1" r="1.65"/><circle cx="237.8" cy="245.4" r="1.65"/><circle cx="238.6" cy="244.3" r="1.65"/><circle cx="239.4" cy="244.4" r="1.65"/><circle cx="240.3" cy="244.3" r="1.65"/><circle cx="241.1" cy="245.9" r="1.65"/><circle cx="241.9" cy="245.8" r="1.65"/><circle cx="242.7" cy="246.2" r="1.65"/><circle cx="243.5" cy="244.7" r="1.65"/><circle cx="244.3" cy="244.7" r="1.65"/><circle cx="245.2" cy="246.4" r="1.65"/><circle cx="246.0" cy="245.1" r="1.65"/><circle cx="246.8" cy="245.4" r="1.65"/><circle cx="247.6" cy="246.8" r="1.65"/><circle cx="248.4" cy="246.8" r="1.65"/><circle cx="249.3" cy="246.6" r="1.65"/><circle cx="250.1" cy="246.0" r="1.65"/><circle cx="250.9" cy="246.0" r="1.65"/><circle cx="251.7" cy="246.3" r="1.65"/><circle cx="252.5" cy="247.2" r="1.65"/><circle cx="253.4" cy="247.1" r="1.65"/><circle cx="254.2" cy="246.7" r="1.65"/><circle cx="255.0" cy="246.8" r="1.65"/><circle cx="255.8" cy="247.8" r="1.65"/><circle cx="256.6" cy="247.8" r="1.65"/><circle cx="257.4" cy="247.4" r="1.65"/><circle cx="258.3" cy="247.3" r="1.65"/><circle cx="259.1" cy="248.3" r="1.65"/><circle cx="259.9" cy="248.5" r="1.65"/><circle cx="260.7" cy="247.9" r="1.65"/><circle cx="261.5" cy="248.8" r="1.65"/><circle cx="262.4" cy="248.9" r="1.65"/><circle cx="263.2" cy="249.0" r="1.65"/><circle cx="264.0" cy="248.4" r="1.65"/><circle cx="264.8" cy="248.6" r="1.65"/><circle cx="265.6" cy="249.4" r="1.65"/><circle cx="266.5" cy="249.8" r="1.65"/><circle cx="267.3" cy="249.2" r="1.65"/><circle cx="268.1" cy="250.2" r="1.65"/><circle cx="268.9" cy="250.4" r="1.65"/><circle cx="269.7" cy="250.4" r="1.65"/><circle cx="270.6" cy="250.0" r="1.65"/><circle cx="271.4" cy="250.1" r="1.65"/><circle cx="272.2" cy="250.0" r="1.65"/><circle cx="273.0" cy="251.0" r="1.65"/><circle cx="273.8" cy="251.2" r="1.65"/><circle cx="274.6" cy="250.5" r="1.65"/><circle cx="275.5" cy="250.5" r="1.65"/><circle cx="276.3" cy="250.5" r="1.65"/><circle cx="277.1" cy="251.3" r="1.65"/><circle cx="277.9" cy="251.5" r="1.65"/><circle cx="278.7" cy="250.9" r="1.65"/><circle cx="279.6" cy="251.1" r="1.65"/><circle cx="280.4" cy="251.1" r="1.65"/><circle cx="281.2" cy="251.9" r="1.65"/><circle cx="282.0" cy="251.8" r="1.65"/><circle cx="282.8" cy="251.8" r="1.65"/><circle cx="283.7" cy="251.1" r="1.65"/><circle cx="284.5" cy="251.1" r="1.65"/><circle cx="285.3" cy="250.9" r="1.65"/><circle cx="286.1" cy="251.7" r="1.65"/><circle cx="286.9" cy="251.5" r="1.65"/><circle cx="287.7" cy="251.5" r="1.65"/><circle cx="288.6" cy="250.9" r="1.65"/><circle cx="289.4" cy="250.7" r="1.65"/><circle cx="290.2" cy="251.5" r="1.65"/><circle cx="291.0" cy="251.8" r="1.65"/><circle cx="291.8" cy="251.0" r="1.65"/><circle cx="292.7" cy="251.3" r="1.65"/><circle cx="293.5" cy="252.1" r="1.65"/><circle cx="294.3" cy="251.7" r="1.65"/><circle cx="295.1" cy="251.8" r="1.65"/><circle cx="295.9" cy="252.8" r="1.65"/><circle cx="296.8" cy="252.9" r="1.65"/><circle cx="297.6" cy="252.5" r="1.65"/><circle cx="298.4" cy="252.4" r="1.65"/><circle cx="299.2" cy="253.3" r="1.65"/><circle cx="300.0" cy="253.2" r="1.65"/><circle cx="300.8" cy="253.1" r="1.65"/><circle cx="301.7" cy="253.5" r="1.65"/><circle cx="302.5" cy="253.5" r="1.65"/><circle cx="303.3" cy="253.5" r="1.65"/><circle cx="304.1" cy="253.3" r="1.65"/><circle cx="304.9" cy="253.4" r="1.65"/><circle cx="305.8" cy="253.8" r="1.65"/><circle cx="306.6" cy="253.8" r="1.65"/><circle cx="307.4" cy="253.8" r="1.65"/><circle cx="308.2" cy="253.5" r="1.65"/><circle cx="309.0" cy="253.6" r="1.65"/><circle cx="309.9" cy="253.7" r="1.65"/><circle cx="310.7" cy="254.0" r="1.65"/><circle cx="311.5" cy="254.0" r="1.65"/><circle cx="312.3" cy="253.8" r="1.65"/><circle cx="313.1" cy="253.8" r="1.65"/><circle cx="313.9" cy="254.2" r="1.65"/><circle cx="314.8" cy="254.4" r="1.65"/><circle cx="315.6" cy="254.1" r="1.65"/><circle cx="316.4" cy="254.1" r="1.65"/><circle cx="317.2" cy="254.5" r="1.65"/><circle cx="318.0" cy="254.7" r="1.65"/><circle cx="318.9" cy="254.7" r="1.65"/><circle cx="319.7" cy="254.5" r="1.65"/><circle cx="320.5" cy="254.6" r="1.65"/><circle cx="321.3" cy="255.1" r="1.65"/><circle cx="322.1" cy="255.3" r="1.65"/><circle cx="323.0" cy="255.1" r="1.65"/><circle cx="323.8" cy="255.5" r="1.65"/><circle cx="324.6" cy="255.6" r="1.65"/><circle cx="325.4" cy="255.8" r="1.65"/><circle cx="326.2" cy="255.5" r="1.65"/><circle cx="327.1" cy="255.6" r="1.65"/><circle cx="327.9" cy="255.8" r="1.65"/><circle cx="328.7" cy="256.1" r="1.65"/><circle cx="329.5" cy="256.2" r="1.65"/><circle cx="330.3" cy="256.3" r="1.65"/><circle cx="331.1" cy="256.1" r="1.65"/><circle cx="332.0" cy="256.0" r="1.65"/><circle cx="332.8" cy="256.4" r="1.65"/><circle cx="333.6" cy="256.5" r="1.65"/><circle cx="334.4" cy="256.6" r="1.65"/><circle cx="335.2" cy="256.2" r="1.65"/><circle cx="336.1" cy="256.3" r="1.65"/><circle cx="336.9" cy="256.3" r="1.65"/><circle cx="337.7" cy="256.7" r="1.65"/><circle cx="338.5" cy="256.9" r="1.65"/><circle cx="339.3" cy="256.4" r="1.65"/><circle cx="340.2" cy="256.9" r="1.65"/><circle cx="341.0" cy="256.9" r="1.65"/><circle cx="341.8" cy="256.7" r="1.65"/><circle cx="342.6" cy="256.7" r="1.65"/><circle cx="343.4" cy="257.1" r="1.65"/><circle cx="344.2" cy="257.2" r="1.65"/><circle cx="345.1" cy="256.9" r="1.65"/><circle cx="345.9" cy="257.3" r="1.65"/><circle cx="346.7" cy="257.4" r="1.65"/><circle cx="347.5" cy="257.1" r="1.65"/><circle cx="348.3" cy="257.2" r="1.65"/><circle cx="349.2" cy="257.6" r="1.65"/><circle cx="350.0" cy="257.6" r="1.65"/><circle cx="350.8" cy="257.7" r="1.65"/><circle cx="351.6" cy="257.4" r="1.65"/><circle cx="352.4" cy="257.8" r="1.65"/><circle cx="353.3" cy="257.8" r="1.65"/><circle cx="354.1" cy="257.9" r="1.65"/><circle cx="354.9" cy="257.6" r="1.65"/><circle cx="355.7" cy="257.6" r="1.65"/><circle cx="356.5" cy="257.6" r="1.65"/><circle cx="357.3" cy="258.0" r="1.65"/><circle cx="358.2" cy="257.6" r="1.65"/><circle cx="359.0" cy="257.7" r="1.65"/><circle cx="359.8" cy="257.7" r="1.65"/><circle cx="360.6" cy="258.1" r="1.65"/><circle cx="361.4" cy="258.1" r="1.65"/><circle cx="362.3" cy="258.2" r="1.65"/><circle cx="363.1" cy="257.8" r="1.65"/><circle cx="363.9" cy="257.9" r="1.65"/><circle cx="364.7" cy="257.8" r="1.65"/><circle cx="365.5" cy="258.2" r="1.65"/><circle cx="366.4" cy="258.3" r="1.65"/><circle cx="367.2" cy="258.0" r="1.65"/><circle cx="368.0" cy="258.3" r="1.65"/><circle cx="368.8" cy="258.3" r="1.65"/><circle cx="369.6" cy="258.0" r="1.65"/><circle cx="370.5" cy="258.2" r="1.65"/><circle cx="371.3" cy="258.1" r="1.65"/><circle cx="372.1" cy="258.5" r="1.65"/><circle cx="372.9" cy="258.7" r="1.65"/><circle cx="373.7" cy="258.6" r="1.65"/><circle cx="374.5" cy="258.4" r="1.65"/><circle cx="375.4" cy="258.5" r="1.65"/><circle cx="376.2" cy="258.4" r="1.65"/><circle cx="377.0" cy="258.8" r="1.65"/><circle cx="377.8" cy="258.5" r="1.65"/><circle cx="378.6" cy="259.0" r="1.65"/><circle cx="379.5" cy="259.1" r="1.65"/><circle cx="380.3" cy="258.8" r="1.65"/><circle cx="381.1" cy="258.9" r="1.65"/><circle cx="381.9" cy="259.2" r="1.65"/><circle cx="382.7" cy="258.9" r="1.65"/><circle cx="383.6" cy="259.0" r="1.65"/><circle cx="384.4" cy="259.0" r="1.65"/><circle cx="385.2" cy="259.4" r="1.65"/><circle cx="386.0" cy="259.5" r="1.65"/><circle cx="386.8" cy="259.5" r="1.65"/><circle cx="387.6" cy="259.2" r="1.65"/><circle cx="388.5" cy="259.2" r="1.65"/><circle cx="389.3" cy="259.6" r="1.65"/><circle cx="390.1" cy="259.6" r="1.65"/><circle cx="390.9" cy="259.4" r="1.65"/><circle cx="391.7" cy="259.4" r="1.65"/><circle cx="392.6" cy="259.4" r="1.65"/><circle cx="393.4" cy="259.8" r="1.65"/><circle cx="394.2" cy="259.8" r="1.65"/><circle cx="395.0" cy="259.5" r="1.65"/><circle cx="395.8" cy="259.8" r="1.65"/><circle cx="396.7" cy="259.9" r="1.65"/><circle cx="397.5" cy="259.9" r="1.65"/><circle cx="398.3" cy="259.6" r="1.65"/><circle cx="399.1" cy="259.6" r="1.65"/><circle cx="399.9" cy="259.9" r="1.65"/><circle cx="400.7" cy="259.7" r="1.65"/><circle cx="401.6" cy="259.7" r="1.65"/><circle cx="402.4" cy="260.1" r="1.65"/><circle cx="403.2" cy="259.7" r="1.65"/><circle cx="404.0" cy="260.1" r="1.65"/><circle cx="404.8" cy="260.2" r="1.65"/><circle cx="405.7" cy="260.2" r="1.65"/><circle cx="406.5" cy="259.8" r="1.65"/><circle cx="407.3" cy="259.9" r="1.65"/><circle cx="408.1" cy="260.3" r="1.65"/><circle cx="408.9" cy="260.0" r="1.65"/><circle cx="409.8" cy="260.4" r="1.65"/><circle cx="410.6" cy="260.3" r="1.65"/><circle cx="411.4" cy="260.0" r="1.65"/><circle cx="412.2" cy="260.0" r="1.65"/><circle cx="413.0" cy="260.2" r="1.65"/><circle cx="413.9" cy="260.5" r="1.65"/><circle cx="414.7" cy="260.5" r="1.65"/><circle cx="415.5" cy="260.2" r="1.65"/><circle cx="416.3" cy="260.6" r="1.65"/><circle cx="417.1" cy="260.6" r="1.65"/><circle cx="417.9" cy="260.6" r="1.65"/><circle cx="418.8" cy="260.3" r="1.65"/><circle cx="419.6" cy="260.8" r="1.65"/><circle cx="420.4" cy="260.7" r="1.65"/><circle cx="421.2" cy="260.5" r="1.65"/><circle cx="422.0" cy="260.5" r="1.65"/><circle cx="422.9" cy="260.6" r="1.65"/><circle cx="423.7" cy="261.0" r="1.65"/><circle cx="424.5" cy="260.9" r="1.65"/><circle cx="425.3" cy="260.7" r="1.65"/><circle cx="426.1" cy="260.7" r="1.65"/><circle cx="427.0" cy="261.2" r="1.65"/><circle cx="427.8" cy="261.1" r="1.65"/><circle cx="428.6" cy="261.2" r="1.65"/><circle cx="429.4" cy="260.9" r="1.65"/><circle cx="430.2" cy="260.9" r="1.65"/><circle cx="431.0" cy="261.4" r="1.65"/><circle cx="431.9" cy="261.3" r="1.65"/><circle cx="432.7" cy="261.3" r="1.65"/><circle cx="433.5" cy="261.1" r="1.65"/><circle cx="434.3" cy="261.1" r="1.65"/><circle cx="435.1" cy="261.6" r="1.65"/><circle cx="436.0" cy="261.6" r="1.65"/><circle cx="436.8" cy="261.2" r="1.65"/><circle cx="437.6" cy="261.3" r="1.65"/><circle cx="438.4" cy="261.7" r="1.65"/><circle cx="439.2" cy="261.8" r="1.65"/><circle cx="440.1" cy="261.5" r="1.65"/><circle cx="440.9" cy="261.7" r="1.65"/><circle cx="441.7" cy="261.5" r="1.65"/><circle cx="442.5" cy="261.5" r="1.65"/><circle cx="443.3" cy="261.9" r="1.65"/><circle cx="444.1" cy="261.8" r="1.65"/><circle cx="445.0" cy="261.5" r="1.65"/><circle cx="445.8" cy="261.6" r="1.65"/><circle cx="446.6" cy="261.5" r="1.65"/><circle cx="447.4" cy="261.9" r="1.65"/><circle cx="448.2" cy="261.9" r="1.65"/><circle cx="449.1" cy="261.6" r="1.65"/><circle cx="449.9" cy="261.6" r="1.65"/><circle cx="450.7" cy="261.7" r="1.65"/><circle cx="451.5" cy="262.0" r="1.65"/><circle cx="452.3" cy="262.0" r="1.65"/><circle cx="453.2" cy="261.7" r="1.65"/><circle cx="454.0" cy="261.7" r="1.65"/><circle cx="454.8" cy="262.0" r="1.65"/><circle cx="455.6" cy="262.1" r="1.65"/><circle cx="456.4" cy="261.8" r="1.65"/><circle cx="457.3" cy="261.8" r="1.65"/><circle cx="458.1" cy="262.1" r="1.65"/><circle cx="458.9" cy="262.1" r="1.65"/><circle cx="459.7" cy="262.1" r="1.65"/><circle cx="460.5" cy="261.9" r="1.65"/><circle cx="461.3" cy="261.8" r="1.65"/><circle cx="462.2" cy="262.3" r="1.65"/><circle cx="463.0" cy="262.2" r="1.65"/><circle cx="463.8" cy="262.3" r="1.65"/><circle cx="464.6" cy="261.9" r="1.65"/><circle cx="465.4" cy="262.0" r="1.65"/><circle cx="466.3" cy="262.0" r="1.65"/><circle cx="467.1" cy="262.3" r="1.65"/><circle cx="467.9" cy="262.4" r="1.65"/><circle cx="468.7" cy="262.0" r="1.65"/><circle cx="469.5" cy="262.3" r="1.65"/><circle cx="470.4" cy="262.1" r="1.65"/><circle cx="471.2" cy="262.1" r="1.65"/><circle cx="472.0" cy="262.1" r="1.65"/><circle cx="472.8" cy="262.5" r="1.65"/><circle cx="473.6" cy="262.5" r="1.65"/><circle cx="474.4" cy="262.1" r="1.65"/><circle cx="475.3" cy="262.5" r="1.65"/><circle cx="476.1" cy="262.5" r="1.65"/><circle cx="476.9" cy="262.2" r="1.65"/><circle cx="477.7" cy="262.5" r="1.65"/><circle cx="478.5" cy="262.5" r="1.65"/><circle cx="479.4" cy="262.2" r="1.65"/><circle cx="480.2" cy="262.7" r="1.65"/><circle cx="481.0" cy="262.6" r="1.65"/><circle cx="481.8" cy="262.3" r="1.65"/><circle cx="482.6" cy="262.6" r="1.65"/><circle cx="483.5" cy="262.6" r="1.65"/><circle cx="484.3" cy="262.3" r="1.65"/><circle cx="485.1" cy="262.4" r="1.65"/><circle cx="485.9" cy="262.8" r="1.65"/><circle cx="486.7" cy="262.3" r="1.65"/><circle cx="487.5" cy="262.3" r="1.65"/><circle cx="488.4" cy="262.7" r="1.65"/><circle cx="489.2" cy="262.4" r="1.65"/><circle cx="490.0" cy="262.7" r="1.65"/><circle cx="490.8" cy="262.8" r="1.65"/><circle cx="491.6" cy="262.4" r="1.65"/><circle cx="492.5" cy="262.4" r="1.65"/><circle cx="493.3" cy="262.7" r="1.65"/><circle cx="494.1" cy="262.8" r="1.65"/><circle cx="494.9" cy="262.5" r="1.65"/><circle cx="495.7" cy="262.8" r="1.65"/><circle cx="496.6" cy="262.4" r="1.65"/><circle cx="497.4" cy="262.8" r="1.65"/><circle cx="498.2" cy="262.8" r="1.65"/><circle cx="499.0" cy="262.8" r="1.65"/><circle cx="499.8" cy="262.6" r="1.65"/><circle cx="500.7" cy="262.9" r="1.65"/><circle cx="501.5" cy="262.8" r="1.65"/><circle cx="502.3" cy="262.4" r="1.65"/><circle cx="503.1" cy="262.8" r="1.65"/><circle cx="503.9" cy="262.9" r="1.65"/><circle cx="504.7" cy="262.5" r="1.65"/><circle cx="505.6" cy="262.8" r="1.65"/><circle cx="506.4" cy="262.6" r="1.65"/><circle cx="507.2" cy="262.5" r="1.65"/><circle cx="508.0" cy="262.9" r="1.65"/><circle cx="508.8" cy="262.5" r="1.65"/><circle cx="509.7" cy="262.6" r="1.65"/><circle cx="510.5" cy="262.9" r="1.65"/><circle cx="511.3" cy="263.0" r="1.65"/><circle cx="512.1" cy="262.9" r="1.65"/><circle cx="512.9" cy="262.6" r="1.65"/><circle cx="513.8" cy="262.6" r="1.65"/><circle cx="514.6" cy="262.9" r="1.65"/><circle cx="515.4" cy="262.9" r="1.65"/><circle cx="516.2" cy="262.6" r="1.65"/><circle cx="517.0" cy="262.6" r="1.65"/><circle cx="517.8" cy="262.5" r="1.65"/><circle cx="518.7" cy="262.9" r="1.65"/><circle cx="519.5" cy="263.0" r="1.65"/><circle cx="520.3" cy="262.9" r="1.65"/><circle cx="521.1" cy="262.7" r="1.65"/><circle cx="521.9" cy="262.7" r="1.65"/><circle cx="522.8" cy="263.1" r="1.65"/><circle cx="523.6" cy="263.0" r="1.65"/><circle cx="524.4" cy="262.6" r="1.65"/><circle cx="525.2" cy="262.7" r="1.65"/><circle cx="526.0" cy="263.0" r="1.65"/><circle cx="526.9" cy="263.0" r="1.65"/><circle cx="527.7" cy="262.7" r="1.65"/><circle cx="528.5" cy="262.7" r="1.65"/><circle cx="529.3" cy="263.1" r="1.65"/><circle cx="530.1" cy="262.7" r="1.65"/><circle cx="530.9" cy="263.1" r="1.65"/><circle cx="531.8" cy="262.7" r="1.65"/><circle cx="532.6" cy="262.7" r="1.65"/><circle cx="533.4" cy="262.7" r="1.65"/><circle cx="534.2" cy="263.0" r="1.65"/><circle cx="535.0" cy="263.1" r="1.65"/><circle cx="535.9" cy="263.1" r="1.65"/><circle cx="536.7" cy="262.7" r="1.65"/><circle cx="537.5" cy="262.7" r="1.65"/></g>

<text x="199.1" y="29.9" font-family="'Liberation Sans', sans-serif" font-weight="bold" font-size="14" fill="#595959" textLength="176.4" lengthAdjust="spacingAndGlyphs">Validation loss comparison</text>
<line x1="323.7" y1="72.4" x2="337.6" y2="72.4" stroke="#4472C4" stroke-width="1.5"/><circle cx="330.5" cy="72.4" r="1.6" fill="#4472C4"/>
<line x1="323.7" y1="97.6" x2="337.6" y2="97.6" stroke="#ED7D31" stroke-width="1.5"/><circle cx="330.5" cy="97.6" r="1.6" fill="#ED7D31"/>
<g font-family="'Liberation Sans', sans-serif" font-size="12" fill="#595959">
<text x="338.6" y="76.4" textLength="123.3" lengthAdjust="spacingAndGlyphs">YOLOv5_val/loss value</text>
<text x="338.6" y="100.9" textLength="179" lengthAdjust="spacingAndGlyphs">Improved YOLOv5_val/loss value</text>
</g>
<text transform="translate(25.3,231.5) rotate(-90)" x="0" y="0" font-family="'Liberation Sans', sans-serif" font-weight="bold" font-size="11.7" fill="#595959" textLength="147" lengthAdjust="spacingAndGlyphs">Validation loss function value</text>
<text x="259.4" y="310.5" font-family="'Liberation Sans', sans-serif" font-weight="bold" font-size="10.6" fill="#595959" textLength="30.2" lengthAdjust="spacingAndGlyphs">Epoch</text>
<text x="182.3" y="332.6" font-family="'Liberation Serif', serif" font-size="12.9" fill="#000" textLength="185.8" lengthAdjust="spacingAndGlyphs">(<tspan font-weight="bold">b</tspan>) Validation loss comparison</text>
</svg>
</body></html>
